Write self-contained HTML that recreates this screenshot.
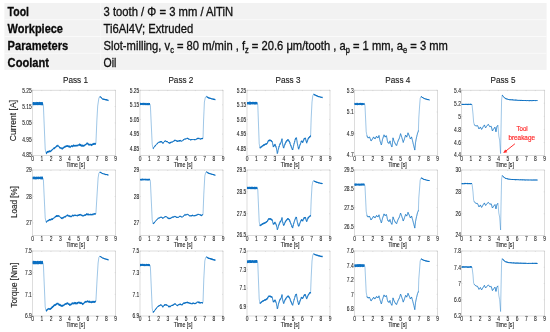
<!DOCTYPE html>
<html lang="en"><head><meta charset="utf-8"><title>Milling passes</title>
<style>html,body{margin:0;padding:0;background:#fff}body{width:550px;height:332px;overflow:hidden}svg{display:block;filter:blur(.3px)}text{font-family:'Liberation Sans', Arial, Helvetica, sans-serif}.k{font-size:6.4px;fill:#262626;stroke:#262626;stroke-width:.1px}.t{font-size:6.3px;fill:#262626;stroke:#262626;stroke-width:.12px}.e{text-anchor:end}.m{text-anchor:middle}.h{font-size:9.5px;fill:#1c1c1c;stroke:#1c1c1c;stroke-width:.14px;text-anchor:middle}.b{font-size:12.6px;font-weight:bold;fill:#0a0a0a;stroke:#0a0a0a;stroke-width:.3px}.v{font-size:12.6px;fill:#111;stroke:#111;stroke-width:.32px}</style>
</head><body>
<svg width="550" height="332" viewBox="0 0 550 332">
<rect width="550" height="332" fill="#fff"/>
<g id="tbl">
<rect x="4.4" y="3" width="542.2" height="66.9" fill="#f2f2f2"/>
<rect x="4.4" y="19.3" width="542.2" height="0.8" fill="#fbfbfb"/>
<rect x="4.4" y="36.1" width="542.2" height="0.8" fill="#fbfbfb"/>
<rect x="4.4" y="52.9" width="542.2" height="0.8" fill="#fbfbfb"/>
<rect x="100.4" y="3" width="0.8" height="66.9" fill="#fbfbfb"/>
<text x="7.6" y="16.4" class="b" textLength="21.4" lengthAdjust="spacingAndGlyphs">Tool</text>
<text x="7.6" y="33.4" class="b" textLength="55.4" lengthAdjust="spacingAndGlyphs">Workpiece</text>
<text x="7.6" y="50.4" class="b" textLength="60.6" lengthAdjust="spacingAndGlyphs">Parameters</text>
<text x="7.6" y="67.3" class="b" textLength="41.4" lengthAdjust="spacingAndGlyphs">Coolant</text>
<text x="103.6" y="16.4" class="v" textLength="129.5" lengthAdjust="spacingAndGlyphs">3 tooth / Φ = 3 mm / AlTiN</text>
<text x="103.6" y="33.4" class="v" textLength="89.6" lengthAdjust="spacingAndGlyphs">Ti6Al4V; Extruded</text>
<text x="103.6" y="50.4" class="v" textLength="344.3" lengthAdjust="spacingAndGlyphs">Slot-milling, v<tspan font-size="8.4" dy="2.6">c</tspan><tspan dy="-2.6"> = 80 m/min , f</tspan><tspan font-size="8.4" dy="2.6">z</tspan><tspan dy="-2.6"> = 20.6 μm/tooth , a</tspan><tspan font-size="8.4" dy="2.6">p</tspan><tspan dy="-2.6"> = 1 mm, a</tspan><tspan font-size="8.4" dy="2.6">e</tspan><tspan dy="-2.6"> = 3 mm</tspan></text>
<text x="103.6" y="67.3" class="v" textLength="12.8" lengthAdjust="spacingAndGlyphs">Oil</text>
</g>
<text x="75.5" y="82.9" class="h" textLength="25" lengthAdjust="spacingAndGlyphs">Pass 1</text>
<text x="180.9" y="82.9" class="h" textLength="25" lengthAdjust="spacingAndGlyphs">Pass 2</text>
<text x="288" y="82.9" class="h" textLength="25" lengthAdjust="spacingAndGlyphs">Pass 3</text>
<text x="397.8" y="82.9" class="h" textLength="25" lengthAdjust="spacingAndGlyphs">Pass 4</text>
<text x="503" y="82.9" class="h" textLength="25" lengthAdjust="spacingAndGlyphs">Pass 5</text>
<text transform="translate(15.5 120.6) rotate(-90)" class="h" textLength="41.2" lengthAdjust="spacingAndGlyphs">Current [A]</text>
<text transform="translate(17.1 202.1) rotate(-90)" class="h" textLength="31.7" lengthAdjust="spacingAndGlyphs">Load [%]</text>
<text transform="translate(16.6 285.2) rotate(-90)" class="h" textLength="45.0" lengthAdjust="spacingAndGlyphs">Torque [Nm]</text>
<g>
<rect x="32.5" y="90.2" width="83" height="65.4" fill="#fff" stroke="#c6c6c6" stroke-width="0.6"/>
<path d="M32.5 155.6v-0.9M32.5 90.2v0.9M41.72 155.6v-0.9M41.72 90.2v0.9M50.94 155.6v-0.9M50.94 90.2v0.9M60.17 155.6v-0.9M60.17 90.2v0.9M69.39 155.6v-0.9M69.39 90.2v0.9M78.61 155.6v-0.9M78.61 90.2v0.9M87.83 155.6v-0.9M87.83 90.2v0.9M97.06 155.6v-0.9M97.06 90.2v0.9M106.28 155.6v-0.9M106.28 90.2v0.9M115.5 155.6v-0.9M115.5 90.2v0.9M32.5 90.2h0.9M115.5 90.2h-0.9M32.5 106.55h0.9M115.5 106.55h-0.9M32.5 122.9h0.9M115.5 122.9h-0.9M32.5 139.25h0.9M115.5 139.25h-0.9M32.5 155.6h0.9M115.5 155.6h-0.9" stroke="#bdbdbd" stroke-width="0.4" fill="none"/>
<text x="31.8" y="92.55" textLength="9.57" lengthAdjust="spacingAndGlyphs" class="k e">5.25</text>
<text x="31.8" y="108.9" textLength="9.57" lengthAdjust="spacingAndGlyphs" class="k e">5.15</text>
<text x="31.8" y="125.25" textLength="9.57" lengthAdjust="spacingAndGlyphs" class="k e">5.05</text>
<text x="31.8" y="141.6" textLength="9.57" lengthAdjust="spacingAndGlyphs" class="k e">4.95</text>
<text x="31.8" y="157.15" textLength="9.57" lengthAdjust="spacingAndGlyphs" class="k e">4.85</text>
<text x="32.6" y="160.9" textLength="2.74" lengthAdjust="spacingAndGlyphs" class="k m">0</text>
<text x="41.82" y="160.9" textLength="2.74" lengthAdjust="spacingAndGlyphs" class="k m">1</text>
<text x="51.04" y="160.9" textLength="2.74" lengthAdjust="spacingAndGlyphs" class="k m">2</text>
<text x="60.27" y="160.9" textLength="2.74" lengthAdjust="spacingAndGlyphs" class="k m">3</text>
<text x="69.49" y="160.9" textLength="2.74" lengthAdjust="spacingAndGlyphs" class="k m">4</text>
<text x="78.71" y="160.9" textLength="2.74" lengthAdjust="spacingAndGlyphs" class="k m">5</text>
<text x="87.93" y="160.9" textLength="2.74" lengthAdjust="spacingAndGlyphs" class="k m">6</text>
<text x="97.16" y="160.9" textLength="2.74" lengthAdjust="spacingAndGlyphs" class="k m">7</text>
<text x="106.38" y="160.9" textLength="2.74" lengthAdjust="spacingAndGlyphs" class="k m">8</text>
<text x="115.6" y="160.9" textLength="2.74" lengthAdjust="spacingAndGlyphs" class="k m">9</text>
<text x="75.6" y="166.5" textLength="18.5" lengthAdjust="spacingAndGlyphs" class="t m">Time [s]</text>
<polyline points="32.6,103.6 43,103.6 43.4,105.6 45.2,149 46,153.4 48.2,151.36 50.9,150.8 53.64,148.64 56.36,146.46 58,145.9 60.18,147.54 61.8,148.64 64.54,147.2 67.26,145.68 70,147 72.72,145.9 74.9,145.36 77.08,145.58 78.72,144.82 80.9,145.36 83.08,146.24 85.26,144.82 86.9,143.72 89.08,144.6 91.26,144.6 93.44,144.06 95.9,143.72 96.9,120 97.7,106 98.9,98 99.7,96.8 100.7,97 102.5,99 105.5,99.6 108.5,100.4" fill="none" stroke="#0b6fc2" stroke-opacity="0.6" stroke-width="0.65" stroke-linejoin="round"/>
<polygon points="32.6,102.19 33,102.03 33.4,102.12 33.8,102 34.2,101.99 34.6,102.29 35,102.31 35.4,101.88 35.8,102.18 36.2,102.2 36.6,101.79 37,102.07 37.4,101.88 37.8,102.07 38.2,101.98 38.6,102.24 39,101.98 39.4,101.86 39.8,102.04 40.2,101.93 40.6,101.97 41,102.29 41.4,101.92 41.8,102.01 42.2,102.16 42.6,102.3 43,101.86 43,105.4 42.6,105.33 42.2,105.37 41.8,105.24 41.4,105.36 41,105.19 40.6,105.19 40.2,105.07 39.8,105.08 39.4,105.15 39,105.04 38.6,105.21 38.2,105.11 37.8,105.39 37.4,104.99 37,104.95 36.6,104.93 36.2,105.34 35.8,105.37 35.4,105.11 35,105.3 34.6,105.09 34.2,105.37 33.8,105.26 33.4,105.34 33,105.26 32.6,105.13" fill="#0b6fc2"/>
<polygon points="46,152.58 46.4,152.01 46.8,151.25 47.2,151.11 47.6,151.01 48,150.68 48.4,150.91 48.8,150.81 49.2,150.31 49.6,150.53 50,150.41 50.4,150.67 50.8,150.2 51.2,149.72 51.6,149.71 52,149.05 52.4,148.77 52.8,148.78 53.2,147.92 53.6,147.54 54,147.19 54.4,147.29 54.8,146.94 55.2,146.51 55.6,146.59 56,146.16 56.4,145.35 56.8,144.92 57.2,145.18 57.6,144.83 58,144.53 58.4,145.19 58.8,145.72 59.2,146.32 59.6,146.62 60,146.82 60.4,147.26 60.8,147.18 61.2,146.9 61.6,147.64 62,147.54 62.4,147.45 62.8,147.49 63.2,147.21 63.6,146.48 64,146.56 64.4,146.3 64.8,145.86 65.2,145.51 65.6,145.74 66,145.46 66.4,145.39 66.8,144.98 67.2,145.09 67.6,144.98 68,145.66 68.4,145.47 68.8,145.18 69.2,145.06 69.6,145.73 70,146.26 70.4,146.17 70.8,145.55 71.2,145.43 71.6,144.97 72,145.01 72.4,145.51 72.8,145.17 73.2,144.59 73.6,144.55 74,144.52 74.4,144.91 74.8,145.06 75.2,144.99 75.6,144.73 76,145.01 76.4,144.84 76.8,144.68 77.2,144.81 77.6,144.8 78,144.33 78.4,144.44 78.8,144.18 79.2,143.5 79.6,143.57 80,143.52 80.4,144.1 80.8,144.02 81.2,144.35 81.6,144.8 82,144.43 82.4,144.4 82.8,144.73 83.2,144.92 83.6,144.87 84,144.65 84.4,144.53 84.8,144.45 85.2,143.9 85.6,143.9 86,143.13 86.4,143.23 86.8,142.27 87.2,142.42 87.6,142.39 88,142.69 88.4,143.12 88.8,143.77 89.2,144.19 89.6,143.52 90,143.72 90.4,143.85 90.8,143.81 91.2,144.06 91.6,144.03 92,143.56 92.4,143.58 92.8,143.5 93.2,143.29 93.6,142.77 94,143 94.4,142.77 94.8,143.02 95.2,143.09 95.6,142.84 95.9,142.63 95.9,144.47 95.6,144.99 95.2,144.85 94.8,144.78 94.4,144.83 94,144.97 93.6,145.05 93.2,145.11 92.8,145.02 92.4,145.69 92,145.66 91.6,146.15 91.2,145.94 90.8,145.51 90.4,145.52 90,145.26 89.6,145.48 89.2,145.64 88.8,145.61 88.4,145.42 88,144.9 87.6,144.37 87.2,144.2 86.8,144.23 86.4,145.01 86,145.25 85.6,145.5 85.2,145.53 84.8,146.31 84.4,146.38 84,146.14 83.6,146.74 83.2,146.8 82.8,146.88 82.4,146.18 82,146.65 81.6,146.53 81.2,146.81 80.8,146.41 80.4,146.03 80,145.94 79.6,145.43 79.2,145.89 78.8,145.39 78.4,145.85 78,146.73 77.6,146.33 77.2,146.35 76.8,146.18 76.4,146.79 76,146.48 75.6,146.45 75.2,146.77 74.8,146.41 74.4,146.71 74,146.74 73.6,146.62 73.2,146.85 72.8,147.14 72.4,147.27 72,147.31 71.6,146.79 71.2,147.06 70.8,147.27 70.4,147.97 70,148.21 69.6,147.48 69.2,147.48 68.8,147.4 68.4,147.17 68,147.25 67.6,146.79 67.2,147.04 66.8,147.1 66.4,146.97 66,147.18 65.6,147.46 65.2,147.45 64.8,147.82 64.4,147.95 64,148.16 63.6,148.5 63.2,148.96 62.8,149.42 62.4,149.39 62,149.64 61.6,149.25 61.2,148.86 60.8,148.75 60.4,148.71 60,148.66 59.6,148.54 59.2,148.09 58.8,147.24 58.4,146.82 58,146.25 57.6,146.57 57.2,146.93 56.8,147.19 56.4,147.23 56,147.6 55.6,148.01 55.2,148.54 54.8,148.66 54.4,149.3 54,149.49 53.6,149.09 53.2,149.61 52.8,150.09 52.4,150.42 52,150.65 51.6,151.44 51.2,151.62 50.8,151.95 50.4,152.22 50,152.15 49.6,152.25 49.2,152.19 48.8,152.79 48.4,152.68 48,152.36 47.6,153.05 47.2,153.18 46.8,153.69 46.4,154.14 46,154.26" fill="#0b6fc2"/>
<polygon points="99.7,96.24 100.1,96.13 100.5,96.17 100.9,96.54 101.3,97.01 101.7,97.37 102.1,97.97 102.5,98.39 102.9,98.49 103.3,98.46 103.7,98.62 104.1,98.72 104.5,98.67 104.9,98.68 105.3,98.94 105.7,98.92 106.1,99.11 106.5,99.09 106.9,99.27 107.3,99.47 107.7,99.59 108.1,99.76 108.5,99.73 108.5,101.14 108.1,100.89 107.7,100.78 107.3,100.74 106.9,100.78 106.5,100.61 106.1,100.41 105.7,100.43 105.3,100.3 104.9,100.15 104.5,100.09 104.1,100.09 103.7,100.01 103.3,99.82 102.9,99.78 102.5,99.67 102.1,99.37 101.7,98.68 101.3,98.42 100.9,97.84 100.5,97.59 100.1,97.46 99.7,97.44" fill="#0b6fc2"/>
</g>
<g>
<rect x="140" y="90.2" width="83" height="65.4" fill="#fff" stroke="#c6c6c6" stroke-width="0.6"/>
<path d="M140 155.6v-0.9M140 90.2v0.9M149.22 155.6v-0.9M149.22 90.2v0.9M158.44 155.6v-0.9M158.44 90.2v0.9M167.67 155.6v-0.9M167.67 90.2v0.9M176.89 155.6v-0.9M176.89 90.2v0.9M186.11 155.6v-0.9M186.11 90.2v0.9M195.33 155.6v-0.9M195.33 90.2v0.9M204.56 155.6v-0.9M204.56 90.2v0.9M213.78 155.6v-0.9M213.78 90.2v0.9M223 155.6v-0.9M223 90.2v0.9M140 90.2h0.9M223 90.2h-0.9M140 104.83h0.9M223 104.83h-0.9M140 119.46h0.9M223 119.46h-0.9M140 134.09h0.9M223 134.09h-0.9M140 148.72h0.9M223 148.72h-0.9" stroke="#bdbdbd" stroke-width="0.4" fill="none"/>
<text x="139.3" y="92.55" textLength="9.57" lengthAdjust="spacingAndGlyphs" class="k e">5.25</text>
<text x="139.3" y="107.18" textLength="9.57" lengthAdjust="spacingAndGlyphs" class="k e">5.15</text>
<text x="139.3" y="121.81" textLength="9.57" lengthAdjust="spacingAndGlyphs" class="k e">5.05</text>
<text x="139.3" y="136.44" textLength="9.57" lengthAdjust="spacingAndGlyphs" class="k e">4.95</text>
<text x="139.3" y="151.07" textLength="9.57" lengthAdjust="spacingAndGlyphs" class="k e">4.85</text>
<text x="140.1" y="160.9" textLength="2.74" lengthAdjust="spacingAndGlyphs" class="k m">0</text>
<text x="149.32" y="160.9" textLength="2.74" lengthAdjust="spacingAndGlyphs" class="k m">1</text>
<text x="158.54" y="160.9" textLength="2.74" lengthAdjust="spacingAndGlyphs" class="k m">2</text>
<text x="167.77" y="160.9" textLength="2.74" lengthAdjust="spacingAndGlyphs" class="k m">3</text>
<text x="176.99" y="160.9" textLength="2.74" lengthAdjust="spacingAndGlyphs" class="k m">4</text>
<text x="186.21" y="160.9" textLength="2.74" lengthAdjust="spacingAndGlyphs" class="k m">5</text>
<text x="195.43" y="160.9" textLength="2.74" lengthAdjust="spacingAndGlyphs" class="k m">6</text>
<text x="204.66" y="160.9" textLength="2.74" lengthAdjust="spacingAndGlyphs" class="k m">7</text>
<text x="213.88" y="160.9" textLength="2.74" lengthAdjust="spacingAndGlyphs" class="k m">8</text>
<text x="223.1" y="160.9" textLength="2.74" lengthAdjust="spacingAndGlyphs" class="k m">9</text>
<text x="183.1" y="166.5" textLength="18.5" lengthAdjust="spacingAndGlyphs" class="t m">Time [s]</text>
<polyline points="140,104 150,104 150.4,106 152.2,144.2 153,148.6 155,146 157,143.6 159,142.4 161,141.6 163,143 165,141 167,141.6 169,143 172,142 175,140.4 177,141.6 180,140.4 182,141 185,139 187.4,138.6 190,139.6 193,139.6 196,139.4 198,138 200,139.2 203,138.6 203.6,120 204.4,102 205.4,97.2 206.4,96.4 208,97.6 211,98.6 214,99.4 215.4,99.6" fill="none" stroke="#0b6fc2" stroke-opacity="0.6" stroke-width="0.65" stroke-linejoin="round"/>
<polygon points="140,102.86 140.4,102.71 140.8,102.77 141.2,103.09 141.6,103.12 142,103.08 142.4,103.12 142.8,102.85 143.2,102.77 143.6,102.74 144,103.09 144.4,102.76 144.8,103.05 145.2,103 145.6,102.84 146,103.17 146.4,103.17 146.8,102.78 147.2,103.07 147.6,103.03 148,102.91 148.4,102.86 148.8,103.22 149.2,103.04 149.6,102.99 150,102.96 150,104.84 149.6,105.06 149.2,105.14 148.8,105.29 148.4,105.18 148,104.92 147.6,105.21 147.2,105.13 146.8,105.14 146.4,104.94 146,105.18 145.6,105.19 145.2,104.98 144.8,105.28 144.4,104.83 144,105.26 143.6,105.25 143.2,104.84 142.8,105.13 142.4,104.93 142,104.84 141.6,105.07 141.2,104.99 140.8,105.28 140.4,105.09 140,104.89" fill="#0b6fc2"/>
<polygon points="153,148.18 153.4,147.61 153.8,146.89 154.2,146.14 154.6,145.69 155,145.34 155.4,145.02 155.8,144.82 156.2,144.16 156.6,143.79 157,143.05 157.4,142.74 157.8,142.62 158.2,142.23 158.6,141.57 159,141.99 159.4,141.46 159.8,141.31 160.2,141.11 160.6,141.33 161,140.94 161.4,141.05 161.8,141.15 162.2,141.43 162.6,142.14 163,142.84 163.4,141.98 163.8,141.76 164.2,141.15 164.6,140.5 165,140.41 165.4,140.17 165.8,140.62 166.2,141.12 166.6,140.96 167,140.87 167.4,141.15 167.8,141.26 168.2,141.94 168.6,142 169,142.31 169.4,142.44 169.8,142.23 170.2,141.79 170.6,141.66 171,142.02 171.4,141.43 171.8,141.41 172.2,141.65 172.6,141.26 173,141.12 173.4,140.95 173.8,140.36 174.2,139.83 174.6,139.98 175,139.35 175.4,139.66 175.8,140.24 176.2,139.95 176.6,140.33 177,140.31 177.4,140.38 177.8,140.42 178.2,140.74 178.6,140.33 179,140.1 179.4,140 179.8,140.05 180.2,139.75 180.6,140.01 181,140.45 181.4,140.68 181.8,140.75 182.2,140.47 182.6,140.1 183,139.55 183.4,139.12 183.8,138.93 184.2,138.78 184.6,138.4 185,138.44 185.4,138.42 185.8,138.32 186.2,138.43 186.6,138.24 187,137.42 187.4,137.52 187.8,138.07 188.2,138.37 188.6,138.33 189,138.36 189.4,138.74 189.8,139.21 190.2,139.32 190.6,138.95 191,139.25 191.4,138.9 191.8,139.04 192.2,139.02 192.6,139.04 193,138.91 193.4,139.06 193.8,139.16 194.2,139.12 194.6,139.1 195,138.92 195.4,139.26 195.8,139.33 196.2,138.81 196.6,138.42 197,137.8 197.4,138.12 197.8,137.76 198.2,137.81 198.6,138.06 199,137.43 199.4,138.07 199.8,138.45 200.2,138.33 200.6,138.43 201,137.98 201.4,138.03 201.8,138.11 202.2,138.08 202.6,137.6 203,138.04 203,138.87 202.6,139.17 202.2,139.02 201.8,139.14 201.4,138.99 201,139.54 200.6,139.53 200.2,139.8 199.8,139.18 199.4,139.11 199,139.07 198.6,138.9 198.2,139.25 197.8,139.14 197.4,139.18 197,139.28 196.6,139.84 196.2,139.85 195.8,140.25 195.4,139.94 195,140.44 194.6,139.94 194.2,140.43 193.8,139.78 193.4,139.84 193,140.32 192.6,139.8 192.2,139.87 191.8,139.88 191.4,140.16 191,140.46 190.6,140.48 190.2,140.58 189.8,140.09 189.4,139.86 189,139.49 188.6,139.93 188.2,139.36 187.8,138.91 187.4,138.99 187,139.05 186.6,139.06 186.2,139.33 185.8,139.58 185.4,139.76 185,139.28 184.6,139.5 184.2,140.04 183.8,139.95 183.4,140.82 183,140.75 182.6,140.85 182.2,141.44 181.8,141.61 181.4,141.79 181,141.72 180.6,141.23 180.2,141.43 179.8,141.53 179.4,141.6 179,141.88 178.6,141.62 178.2,141.62 177.8,141.96 177.4,141.96 177,141.84 176.6,141.34 176.2,141.59 175.8,141.02 175.4,141.05 175,140.79 174.6,141.26 174.2,141.45 173.8,141.8 173.4,141.7 173,142.04 172.6,142.42 172.2,142.8 171.8,142.57 171.4,142.83 171,142.95 170.6,143.47 170.2,143.39 169.8,143.76 169.4,143.82 169,143.83 168.6,143.04 168.2,143.18 167.8,142.67 167.4,142.09 167,142.03 166.6,141.98 166.2,142.61 165.8,141.86 165.4,141.33 165,141.64 164.6,141.98 164.2,142.35 163.8,142.7 163.4,143.78 163,144.24 162.6,143.73 162.2,143 161.8,142.82 161.4,142.17 161,142.51 160.6,142.61 160.2,142.38 159.8,142.53 159.4,142.7 159,142.66 158.6,142.71 158.2,142.99 157.8,143.75 157.4,144.37 157,144.45 156.6,144.57 156.2,145.25 155.8,145.93 155.4,146.55 155,146.61 154.6,147 154.2,147.43 153.8,148.38 153.4,148.64 153,149.42" fill="#0b6fc2"/>
<polygon points="206.4,95.77 206.8,96.03 207.2,96.45 207.6,96.61 208,96.86 208.4,97.08 208.8,97.15 209.2,97.3 209.6,97.54 210,97.64 210.4,97.58 210.8,97.91 211.2,98 211.6,98.21 212,98.27 212.4,98.4 212.8,98.28 213.2,98.45 213.6,98.51 214,98.59 214.4,98.75 214.8,98.72 215.2,98.89 215.4,98.95 215.4,100.21 215.2,100.32 214.8,100.26 214.4,100.09 214,100.05 213.6,99.9 213.2,99.93 212.8,99.62 212.4,99.69 212,99.55 211.6,99.37 211.2,99.39 210.8,99.09 210.4,98.98 210,99.07 209.6,98.75 209.2,98.8 208.8,98.68 208.4,98.38 208,98.35 207.6,97.97 207.2,97.8 206.8,97.49 206.4,97.2" fill="#0b6fc2"/>
</g>
<g>
<rect x="247" y="90.2" width="83" height="65.4" fill="#fff" stroke="#c6c6c6" stroke-width="0.6"/>
<path d="M247 155.6v-0.9M247 90.2v0.9M256.22 155.6v-0.9M256.22 90.2v0.9M265.44 155.6v-0.9M265.44 90.2v0.9M274.67 155.6v-0.9M274.67 90.2v0.9M283.89 155.6v-0.9M283.89 90.2v0.9M293.11 155.6v-0.9M293.11 90.2v0.9M302.33 155.6v-0.9M302.33 90.2v0.9M311.56 155.6v-0.9M311.56 90.2v0.9M320.78 155.6v-0.9M320.78 90.2v0.9M330 155.6v-0.9M330 90.2v0.9M247 90.2h0.9M330 90.2h-0.9M247 104.83h0.9M330 104.83h-0.9M247 119.46h0.9M330 119.46h-0.9M247 134.09h0.9M330 134.09h-0.9M247 148.72h0.9M330 148.72h-0.9" stroke="#bdbdbd" stroke-width="0.4" fill="none"/>
<text x="246.3" y="92.55" textLength="9.57" lengthAdjust="spacingAndGlyphs" class="k e">5.25</text>
<text x="246.3" y="107.18" textLength="9.57" lengthAdjust="spacingAndGlyphs" class="k e">5.15</text>
<text x="246.3" y="121.81" textLength="9.57" lengthAdjust="spacingAndGlyphs" class="k e">5.05</text>
<text x="246.3" y="136.44" textLength="9.57" lengthAdjust="spacingAndGlyphs" class="k e">4.95</text>
<text x="246.3" y="151.07" textLength="9.57" lengthAdjust="spacingAndGlyphs" class="k e">4.85</text>
<text x="247.1" y="160.9" textLength="2.74" lengthAdjust="spacingAndGlyphs" class="k m">0</text>
<text x="256.32" y="160.9" textLength="2.74" lengthAdjust="spacingAndGlyphs" class="k m">1</text>
<text x="265.54" y="160.9" textLength="2.74" lengthAdjust="spacingAndGlyphs" class="k m">2</text>
<text x="274.77" y="160.9" textLength="2.74" lengthAdjust="spacingAndGlyphs" class="k m">3</text>
<text x="283.99" y="160.9" textLength="2.74" lengthAdjust="spacingAndGlyphs" class="k m">4</text>
<text x="293.21" y="160.9" textLength="2.74" lengthAdjust="spacingAndGlyphs" class="k m">5</text>
<text x="302.43" y="160.9" textLength="2.74" lengthAdjust="spacingAndGlyphs" class="k m">6</text>
<text x="311.66" y="160.9" textLength="2.74" lengthAdjust="spacingAndGlyphs" class="k m">7</text>
<text x="320.88" y="160.9" textLength="2.74" lengthAdjust="spacingAndGlyphs" class="k m">8</text>
<text x="330.1" y="160.9" textLength="2.74" lengthAdjust="spacingAndGlyphs" class="k m">9</text>
<text x="290.1" y="166.5" textLength="18.5" lengthAdjust="spacingAndGlyphs" class="t m">Time [s]</text>
<polyline points="247,103.2 257.4,103.2 257.8,105.2 259.2,143.6 260,148 261,147 263,145.6 265,144.4 267,143.6 268.6,140.4 270.6,140.4 272.2,141.6 273.4,147 275,144.4 276.4,148 277.4,153.6 278.6,148 280,144 281,142.4 282,139 282.6,144 283.6,148 285,144 286.6,141 288,139.6 289.4,141.6 291,146 292.6,150 294,144 295.4,139 296.4,137.6 297.4,144 298.6,149 300,145 301.4,141 302.6,142.4 304,139 305.4,138 306.6,143 308,139 309.4,137 310.6,136 311.2,118 312,102 312.8,95.6 313.6,94.2 315,95 318,96.4 321,97.2 322.6,97.6" fill="none" stroke="#0b6fc2" stroke-opacity="0.6" stroke-width="0.65" stroke-linejoin="round"/>
<polygon points="247,102.07 247.4,101.96 247.8,101.9 248.2,102.08 248.6,102.04 249,101.72 249.4,101.75 249.8,101.6 250.2,101.6 250.6,101.66 251,101.92 251.4,102.03 251.8,101.96 252.2,101.88 252.6,101.84 253,101.83 253.4,101.93 253.8,101.67 254.2,101.97 254.6,101.88 255,101.65 255.4,101.69 255.8,101.96 256.2,101.99 256.6,101.69 257,102.11 257.4,102.05 257.4,104.64 257,104.61 256.6,104.51 256.2,104.3 255.8,104.42 255.4,104.5 255,104.7 254.6,104.41 254.2,104.44 253.8,104.33 253.4,104.57 253,104.31 252.6,104.46 252.2,104.51 251.8,104.29 251.4,104.38 251,104.3 250.6,104.8 250.2,104.69 249.8,104.8 249.4,104.53 249,104.69 248.6,104.39 248.2,104.31 247.8,104.37 247.4,104.56 247,104.56" fill="#0b6fc2"/>
<polyline points="260,147.24 260.25,148.47 260.5,147.03 260.75,147.67 261,146.31 261.25,147.53 261.5,146.07 261.75,147.2 262,145.7 262.25,146.61 262.5,145.52 262.75,146.14 263,144.96 263.25,146.2 263.5,144.54 263.75,145.72 264,144.35 264.25,145.62 264.5,143.98 264.75,145.18 265,143.86 265.25,144.89 265.5,143.76 265.75,144.54 266,143.34 266.25,144.7 266.5,143.2 266.75,144.24 267,143.09 267.25,143.66 267.5,141.89 267.75,142.66 268,140.82 268.25,141.53 268.5,140.1 268.75,140.99 269,139.86 269.25,141.13 269.5,139.68 269.75,141.17 270,139.77 270.25,140.77 270.5,139.79 270.75,141.11 271,140.13 271.25,141.37 271.5,140.4 271.75,142.02 272,141.04 272.25,142.48 272.5,142.43 272.75,144.66 273,144.45 273.25,147.11 273.5,146.19 273.75,146.88 274,145.26 274.25,146.06 274.5,144.68 274.75,145.53 275,143.9 275.25,145.52 275.5,144.91 275.75,147.1 276,146.47 276.25,148.15 276.5,148.08 276.75,150.38 277,150.89 277.25,153.55 277.5,152.74 277.75,152.43 278,150.35 278.25,150.03 278.5,147.88 278.75,148.26 279,146.13 279.25,146.78 279.5,144.71 279.75,145.08 280,143.52 280.25,144.38 280.5,142.81 280.75,143.28 281,141.83 281.25,142.03 281.5,140.1 281.75,140.23 282,138.54 282.25,141.86 282.5,142.74 282.75,145.36 283,145.16 283.25,147.4 283.5,146.94 283.75,148.22 284,146.43 284.25,146.53 284.5,144.73 284.75,145.15 285,143.56 285.25,144.25 285.5,142.32 285.75,142.98 286,141.34 286.25,142.25 286.5,140.66 286.75,141.26 287,140.07 287.25,141.14 287.5,139.62 287.75,140.27 288,139.18 288.25,140.37 288.5,139.8 288.75,141.43 289,140.63 289.25,141.83 289.5,141.1 289.75,143.36 290,142.46 290.25,144.41 290.5,144.11 290.75,146.09 291,145.43 291.25,147.29 291.5,146.75 291.75,148.24 292,147.99 292.25,149.81 292.5,149.05 292.75,149.97 293,147.72 293.25,147.81 293.5,145.59 293.75,145.67 294,143.27 294.25,143.56 294.5,141.59 294.75,142.09 295,139.7 295.25,139.97 295.5,138.08 295.75,139.24 296,137.73 296.25,138.29 296.5,137.79 296.75,140.22 297,140.65 297.25,143.58 297.5,143.67 297.75,145.87 298,146.13 298.25,148.28 298.5,147.87 298.75,149.37 299,147.2 299.25,147.73 299.5,145.73 299.75,146.11 300,144.4 300.25,144.84 300.5,143.15 300.75,143.48 301,141.64 301.25,142.01 301.5,140.59 301.75,141.91 302,141.18 302.25,142.62 302.5,141.49 302.75,142.81 303,140.69 303.25,141.55 303.5,139.73 303.75,140.4 304,138.52 304.25,139.24 304.5,138.06 304.75,139.15 305,137.78 305.25,138.75 305.5,137.93 305.75,140.24 306,139.94 306.25,142.11 306.5,141.99 306.75,143.32 307,141.06 307.25,141.74 307.5,139.87 307.75,140.35 308,138.61 308.25,139.19 308.5,137.55 308.75,138.63 309,137.19 309.25,137.95 309.5,136.39 309.75,137.5 310,135.98 310.25,136.75 310.5,135.48 310.6,136.75" fill="none" stroke="#0b6fc2" stroke-width="0.65" stroke-linejoin="round" stroke-linecap="round" stroke-opacity="0.95"/>
<polygon points="313.6,93.55 314,93.65 314.4,93.92 314.8,94.25 315.2,94.48 315.6,94.6 316,94.82 316.4,95.02 316.8,95.12 317.2,95.24 317.6,95.52 318,95.83 318.4,95.91 318.8,95.98 319.2,96.01 319.6,96.26 320,96.38 320.4,96.42 320.8,96.54 321.2,96.71 321.6,96.66 322,96.65 322.4,96.87 322.6,96.86 322.6,98.25 322.4,98.23 322,98.09 321.6,97.96 321.2,97.83 320.8,97.92 320.4,97.57 320,97.56 319.6,97.36 319.2,97.27 318.8,97.32 318.4,97.27 318,96.98 317.6,96.83 317.2,96.81 316.8,96.51 316.4,96.29 316,96.25 315.6,95.84 315.2,95.82 314.8,95.54 314.4,95.45 314,95.2 313.6,94.97" fill="#0b6fc2"/>
</g>
<g>
<rect x="354.4" y="90.2" width="83" height="65.4" fill="#fff" stroke="#c6c6c6" stroke-width="0.6"/>
<path d="M354.4 155.6v-0.9M354.4 90.2v0.9M363.62 155.6v-0.9M363.62 90.2v0.9M372.84 155.6v-0.9M372.84 90.2v0.9M382.07 155.6v-0.9M382.07 90.2v0.9M391.29 155.6v-0.9M391.29 90.2v0.9M400.51 155.6v-0.9M400.51 90.2v0.9M409.73 155.6v-0.9M409.73 90.2v0.9M418.96 155.6v-0.9M418.96 90.2v0.9M428.18 155.6v-0.9M428.18 90.2v0.9M437.4 155.6v-0.9M437.4 90.2v0.9M354.4 90.2h0.9M437.4 90.2h-0.9M354.4 112h0.9M437.4 112h-0.9M354.4 133.8h0.9M437.4 133.8h-0.9M354.4 155.6h0.9M437.4 155.6h-0.9" stroke="#bdbdbd" stroke-width="0.4" fill="none"/>
<text x="353.7" y="92.55" textLength="6.84" lengthAdjust="spacingAndGlyphs" class="k e">5.3</text>
<text x="353.7" y="114.35" textLength="6.84" lengthAdjust="spacingAndGlyphs" class="k e">5.1</text>
<text x="353.7" y="136.15" textLength="6.84" lengthAdjust="spacingAndGlyphs" class="k e">4.9</text>
<text x="353.7" y="157.15" textLength="6.84" lengthAdjust="spacingAndGlyphs" class="k e">4.7</text>
<text x="354.5" y="160.9" textLength="2.74" lengthAdjust="spacingAndGlyphs" class="k m">0</text>
<text x="363.72" y="160.9" textLength="2.74" lengthAdjust="spacingAndGlyphs" class="k m">1</text>
<text x="372.94" y="160.9" textLength="2.74" lengthAdjust="spacingAndGlyphs" class="k m">2</text>
<text x="382.17" y="160.9" textLength="2.74" lengthAdjust="spacingAndGlyphs" class="k m">3</text>
<text x="391.39" y="160.9" textLength="2.74" lengthAdjust="spacingAndGlyphs" class="k m">4</text>
<text x="400.61" y="160.9" textLength="2.74" lengthAdjust="spacingAndGlyphs" class="k m">5</text>
<text x="409.83" y="160.9" textLength="2.74" lengthAdjust="spacingAndGlyphs" class="k m">6</text>
<text x="419.06" y="160.9" textLength="2.74" lengthAdjust="spacingAndGlyphs" class="k m">7</text>
<text x="428.28" y="160.9" textLength="2.74" lengthAdjust="spacingAndGlyphs" class="k m">8</text>
<text x="437.5" y="160.9" textLength="2.74" lengthAdjust="spacingAndGlyphs" class="k m">9</text>
<text x="397.5" y="166.5" textLength="18.5" lengthAdjust="spacingAndGlyphs" class="t m">Time [s]</text>
<polyline points="354.4,104 364.6,104 365,106 366.2,131.6 367,136 368,138 369.6,137 371,141 372.4,139 373.6,137 375,139 376.4,136.4 378,138 379,135.6 380,141 381.4,145 382.6,139 384,135 385.2,137 386.4,135.6 387.6,142 389,143.6 390,141 391,145 392,147 393,138 394,141 395.4,144 396.6,145.6 398,141 399.4,138 400.6,133.6 402,138 403.2,142.4 404.4,139 405.6,135 406.8,137 408,133 409.2,135.6 410.4,139 411.6,137 412.8,142 414,147 414.8,150 415.6,142 416.6,137 417.6,133 418.4,131 418.8,118 419.6,106 420.2,98.4 421,96.4 422,97.2 424,98.4 427,99.4 429.6,100" fill="none" stroke="#0b6fc2" stroke-opacity="0.6" stroke-width="0.65" stroke-linejoin="round"/>
<polygon points="354.4,102.89 354.8,102.87 355.2,102.99 355.6,103.17 356,102.7 356.4,102.86 356.8,103.18 357.2,102.99 357.6,102.82 358,102.7 358.4,103.19 358.8,103.21 359.2,102.97 359.6,103 360,102.75 360.4,102.78 360.8,103.04 361.2,103 361.6,102.91 362,102.75 362.4,103.11 362.8,103.01 363.2,103.17 363.6,102.88 364,103.21 364.4,102.73 364.6,102.94 364.6,105.24 364.4,104.88 364,104.94 363.6,105.01 363.2,104.81 362.8,104.89 362.4,105.17 362,105.23 361.6,105.26 361.2,105.19 360.8,104.97 360.4,105.11 360,105.06 359.6,104.85 359.2,105.26 358.8,104.94 358.4,104.89 358,105.06 357.6,105.13 357.2,105.3 356.8,104.93 356.4,105.06 356,105.23 355.6,105.03 355.2,104.9 354.8,104.83 354.4,105.08" fill="#0b6fc2"/>
<polyline points="367,135.77 367.25,136.86 367.5,136.61 367.75,137.71 368,137.62 368.25,138.11 368.5,137.46 368.75,137.75 369,137.19 369.25,137.51 369.5,136.8 369.75,137.8 370,137.78 370.25,139.05 370.5,139.3 370.75,140.55 371,140.78 371.25,140.88 371.5,140.05 371.75,140.26 372,139.32 372.25,139.42 372.5,138.6 372.75,138.69 373,137.7 373.25,137.82 373.5,136.83 373.75,137.44 374,137.24 374.25,138.24 374.5,138.07 374.75,138.99 375,138.73 375.25,138.83 375.5,137.76 375.75,137.93 376,136.87 376.25,136.87 376.5,136.15 376.75,137.12 377,136.71 377.25,137.56 377.5,137.26 377.75,138.13 378,137.67 378.25,137.63 378.5,136.44 378.75,136.6 379,135.34 379.25,137.35 379.5,138.01 379.75,139.87 380,140.66 380.25,141.97 380.5,142.09 380.75,143.45 381,143.65 381.25,144.87 381.5,144.13 381.75,143.54 382,141.7 382.25,141.12 382.5,139.22 382.75,138.86 383,137.55 383.25,137.5 383.5,136.2 383.75,135.91 384,134.65 384.25,135.72 384.5,135.59 384.75,136.63 385,136.29 385.25,137.24 385.5,136.25 385.75,136.72 386,135.72 386.25,136.02 386.5,135.95 386.75,137.8 387,138.46 387.25,140.39 387.5,141.18 387.75,142.48 388,142.22 388.25,143.08 388.5,142.72 388.75,143.58 389,143.4 389.25,143.25 389.5,142.05 389.75,141.99 390,140.78 390.25,142.27 390.5,142.78 390.75,144.27 391,144.69 391.25,145.7 391.5,145.81 391.75,146.79 392,146.78 392.25,145.04 392.5,142.28 392.75,140.45 393,137.7 393.25,139.13 393.5,139.13 393.75,140.54 394,140.73 394.25,141.73 394.5,141.83 394.75,142.86 395,142.76 395.25,143.88 395.5,143.74 395.75,144.75 396,144.52 396.25,145.37 396.5,145.07 396.75,145.33 397,143.98 397.25,143.76 397.5,142.42 397.75,142.05 398,140.6 398.25,140.82 398.5,139.59 398.75,139.77 399,138.66 399.25,138.66 399.5,137.29 399.75,136.95 400,135.52 400.25,135.28 400.5,133.71 400.75,134.42 401,134.64 401.25,135.97 401.5,136.19 401.75,137.51 402,137.74 402.25,139.29 402.5,139.49 402.75,141.04 403,141.34 403.25,142.53 403.5,141.19 403.75,141.08 404,139.83 404.25,139.73 404.5,138.4 404.75,138.02 405,136.78 405.25,136.49 405.5,135.11 405.75,135.6 406,135.38 406.25,136.47 406.5,136.13 406.75,137.26 407,136.07 407.25,135.69 407.5,134.36 407.75,134.18 408,132.62 408.25,133.77 408.5,133.87 408.75,135.02 409,134.82 409.25,136.03 409.5,136.11 409.75,137.37 410,137.57 410.25,138.9 410.5,138.52 410.75,138.63 411,137.79 411.25,137.9 411.5,136.79 411.75,137.84 412,138.49 412.25,139.91 412.5,140.4 412.75,142.06 413,142.55 413.25,144.27 413.5,144.6 413.75,146.2 414,146.67 414.25,148.12 414.5,148.63 414.75,150.15 415,147.78 415.25,145.69 415.5,142.71 415.75,141.5 416,139.61 416.25,138.95 416.5,137.14 416.75,136.67 417,135.04 417.25,134.68 417.5,133.07 417.75,132.88 418,131.77 418.25,131.65 418.4,130.64" fill="none" stroke="#0b6fc2" stroke-width="0.6" stroke-linejoin="round" stroke-linecap="round" stroke-opacity="0.8"/>
<polygon points="421,95.92 421.4,96.27 421.8,96.54 422.2,96.91 422.6,97.09 423,97.26 423.4,97.5 423.8,97.73 424.2,98 424.6,98.21 425,98.35 425.4,98.39 425.8,98.56 426.2,98.59 426.6,98.81 427,98.8 427.4,98.94 427.8,99.01 428.2,99.09 428.6,99.24 429,99.36 429.4,99.49 429.6,99.6 429.6,100.63 429.4,100.54 429,100.24 428.6,100.29 428.2,100.06 427.8,100.08 427.4,100.14 427,99.85 426.6,99.78 426.2,99.66 425.8,99.42 425.4,99.53 425,99.22 424.6,99.03 424.2,99.13 423.8,98.7 423.4,98.55 423,98.36 422.6,98.11 422.2,97.97 421.8,97.45 421.4,97.24 421,97.01" fill="#0b6fc2"/>
</g>
<g>
<rect x="461.6" y="90.2" width="83" height="65.4" fill="#fff" stroke="#c6c6c6" stroke-width="0.6"/>
<path d="M461.6 155.6v-0.9M461.6 90.2v0.9M470.82 155.6v-0.9M470.82 90.2v0.9M480.04 155.6v-0.9M480.04 90.2v0.9M489.27 155.6v-0.9M489.27 90.2v0.9M498.49 155.6v-0.9M498.49 90.2v0.9M507.71 155.6v-0.9M507.71 90.2v0.9M516.93 155.6v-0.9M516.93 90.2v0.9M526.16 155.6v-0.9M526.16 90.2v0.9M535.38 155.6v-0.9M535.38 90.2v0.9M544.6 155.6v-0.9M544.6 90.2v0.9M461.6 90.2h0.9M544.6 90.2h-0.9M461.6 103.28h0.9M544.6 103.28h-0.9M461.6 116.36h0.9M544.6 116.36h-0.9M461.6 129.44h0.9M544.6 129.44h-0.9M461.6 142.52h0.9M544.6 142.52h-0.9M461.6 155.6h0.9M544.6 155.6h-0.9" stroke="#bdbdbd" stroke-width="0.4" fill="none"/>
<text x="460.9" y="92.55" textLength="6.84" lengthAdjust="spacingAndGlyphs" class="k e">5.4</text>
<text x="460.9" y="105.63" textLength="6.84" lengthAdjust="spacingAndGlyphs" class="k e">5.2</text>
<text x="460.9" y="118.71" textLength="2.74" lengthAdjust="spacingAndGlyphs" class="k e">5</text>
<text x="460.9" y="131.79" textLength="6.84" lengthAdjust="spacingAndGlyphs" class="k e">4.8</text>
<text x="460.9" y="144.87" textLength="6.84" lengthAdjust="spacingAndGlyphs" class="k e">4.6</text>
<text x="460.9" y="157.15" textLength="6.84" lengthAdjust="spacingAndGlyphs" class="k e">4.4</text>
<text x="461.7" y="160.9" textLength="2.74" lengthAdjust="spacingAndGlyphs" class="k m">0</text>
<text x="470.92" y="160.9" textLength="2.74" lengthAdjust="spacingAndGlyphs" class="k m">1</text>
<text x="480.14" y="160.9" textLength="2.74" lengthAdjust="spacingAndGlyphs" class="k m">2</text>
<text x="489.37" y="160.9" textLength="2.74" lengthAdjust="spacingAndGlyphs" class="k m">3</text>
<text x="498.59" y="160.9" textLength="2.74" lengthAdjust="spacingAndGlyphs" class="k m">4</text>
<text x="507.81" y="160.9" textLength="2.74" lengthAdjust="spacingAndGlyphs" class="k m">5</text>
<text x="517.03" y="160.9" textLength="2.74" lengthAdjust="spacingAndGlyphs" class="k m">6</text>
<text x="526.26" y="160.9" textLength="2.74" lengthAdjust="spacingAndGlyphs" class="k m">7</text>
<text x="535.48" y="160.9" textLength="2.74" lengthAdjust="spacingAndGlyphs" class="k m">8</text>
<text x="544.7" y="160.9" textLength="2.74" lengthAdjust="spacingAndGlyphs" class="k m">9</text>
<text x="504.7" y="166.5" textLength="18.5" lengthAdjust="spacingAndGlyphs" class="t m">Time [s]</text>
<polyline points="461.6,104.4 472,104.4 473,114 473.6,122 474.4,125 476,126 477.6,125.6 479,129 480.4,127 481.6,129.6 483,127 484.4,125 485.6,128 487,125.6 488.4,124.4 490,127 491.2,126 492.4,131 493.6,129 495,127 496,132 497,126 498,125.6 498.8,136 499.6,140 500.6,153.6 501,130 501.6,100 502.2,95 503.6,97 505.6,98.6 509,99.6 514,100 520,100.4 528,100.6 537.6,100.6" fill="none" stroke="#0b6fc2" stroke-opacity="0.6" stroke-width="0.65" stroke-linejoin="round"/>
<polygon points="461.6,103.59 462,104.04 462.4,103.71 462.8,103.91 463.2,103.82 463.6,103.91 464,103.91 464.4,104 464.8,103.74 465.2,104.02 465.6,103.56 466,104.05 466.4,103.56 466.8,103.97 467.2,104.03 467.6,103.68 468,103.79 468.4,103.66 468.8,103.8 469.2,103.74 469.6,104.03 470,103.71 470.4,103.8 470.8,103.56 471.2,104.07 471.6,104.03 472,103.71 472,104.78 471.6,104.83 471.2,104.86 470.8,105.05 470.4,105.04 470,104.86 469.6,104.76 469.2,104.91 468.8,104.84 468.4,104.98 468,105.24 467.6,105.12 467.2,105.07 466.8,104.92 466.4,104.87 466,104.98 465.6,104.87 465.2,105.12 464.8,104.89 464.4,104.75 464,105.05 463.6,104.98 463.2,104.94 462.8,105.03 462.4,105.11 462,104.95 461.6,105.22" fill="#0b6fc2"/>
<polyline points="474.4,124.92 474.9,125.42 475.4,125.54 475.9,126.08 476.4,125.79 476.9,125.87 477.4,125.55 477.9,126.4 478.4,127.41 478.9,128.89 479.4,128.33 479.9,127.84 480.4,126.91 480.9,128.17 481.4,129.08 481.9,129.13 482.4,128 482.9,127.31 483.4,126.3 483.9,125.79 484.4,124.87 484.9,126.36 485.4,127.4 485.9,127.59 486.4,126.53 486.9,125.86 487.4,125.16 487.9,124.95 488.4,124.27 488.9,125.36 489.4,125.94 489.9,126.98 490.4,126.53 490.9,126.38 491.4,126.69 491.9,129 492.4,130.87 492.9,130.31 493.4,129.26 493.9,128.69 494.4,127.71 494.9,127.23 495.4,128.86 495.9,131.64 496.4,129.5 496.9,126.68 497.4,125.75 497.9,125.78 498,125.5" fill="none" stroke="#0b6fc2" stroke-width="0.7" stroke-linejoin="round" stroke-linecap="round" stroke-opacity="0.75"/>
<polygon points="502.2,94.58 502.6,95.11 503,95.55 503.4,96.31 503.8,96.82 504.2,96.88 504.6,97.38 505,97.68 505.4,97.83 505.8,98.25 506.2,98.42 506.6,98.31 507,98.61 507.4,98.74 507.8,98.65 508.2,98.97 508.6,98.89 509,99.17 509.4,99.21 509.8,99.27 510.2,99.21 510.6,99.24 511,99.32 511.4,99.32 511.8,99.41 512.2,99.28 512.6,99.29 513,99.37 513.4,99.39 513.8,99.63 514.2,99.61 514.6,99.65 515,99.69 515.4,99.48 515.8,99.53 516.2,99.55 516.6,99.68 517,99.84 517.4,99.77 517.8,99.91 518.2,99.69 518.6,99.9 519,99.92 519.4,99.76 519.8,100 520.2,99.81 520.6,100 521,99.9 521.4,100.07 521.8,99.86 522.2,100.01 522.6,100.04 523,99.96 523.4,99.98 523.8,100.09 524.2,100.14 524.6,100.02 525,100.19 525.4,99.95 525.8,100.12 526.2,100.18 526.6,100.14 527,100.21 527.4,100.16 527.8,100.11 528.2,100.15 528.6,100.17 529,100.19 529.4,100.13 529.8,100.05 530.2,100.14 530.6,100.05 531,100.13 531.4,100.24 531.8,100.22 532.2,100.03 532.6,100.13 533,100.16 533.4,100.12 533.8,100.03 534.2,100.16 534.6,100.17 535,100.16 535.4,100.27 535.8,100.11 536.2,100.13 536.6,100.13 537,100.14 537.4,100.13 537.6,100.06 537.6,101.07 537.4,101.11 537,101.1 536.6,101.12 536.2,101.06 535.8,101.12 535.4,101.2 535,101.03 534.6,101.1 534.2,101.03 533.8,100.96 533.4,100.99 533,101.05 532.6,101.21 532.2,101.05 531.8,101.1 531.4,101.14 531,101.2 530.6,100.95 530.2,101.02 529.8,101.15 529.4,101.15 529,101.03 528.6,101.02 528.2,101.13 527.8,101.07 527.4,101.03 527,101.03 526.6,101.15 526.2,100.93 525.8,100.94 525.4,100.95 525,101.1 524.6,101.08 524.2,101.04 523.8,100.86 523.4,101.01 523,100.96 522.6,100.92 522.2,101.03 521.8,100.81 521.4,100.93 521,100.82 520.6,101.02 520.2,100.89 519.8,100.77 519.4,100.69 519,100.86 518.6,100.86 518.2,100.79 517.8,100.8 517.4,100.76 517,100.59 516.6,100.77 516.2,100.62 515.8,100.46 515.4,100.63 515,100.46 514.6,100.38 514.2,100.53 513.8,100.39 513.4,100.52 513,100.27 512.6,100.24 512.2,100.44 511.8,100.18 511.4,100.28 511,100.34 510.6,100.25 510.2,100.31 509.8,100.22 509.4,100.18 509,100.06 508.6,100.03 508.2,99.73 507.8,99.69 507.4,99.47 507,99.62 506.6,99.48 506.2,99.35 505.8,99.23 505.4,98.93 505,98.47 504.6,98.21 504.2,98.04 503.8,97.54 503.4,97.29 503,96.51 502.6,96.18 502.2,95.38" fill="#0b6fc2"/>
</g>
<g>
<rect x="32.5" y="170" width="83" height="65.6" fill="#fff" stroke="#c6c6c6" stroke-width="0.6"/>
<path d="M32.5 235.6v-0.9M32.5 170v0.9M41.72 235.6v-0.9M41.72 170v0.9M50.94 235.6v-0.9M50.94 170v0.9M60.17 235.6v-0.9M60.17 170v0.9M69.39 235.6v-0.9M69.39 170v0.9M78.61 235.6v-0.9M78.61 170v0.9M87.83 235.6v-0.9M87.83 170v0.9M97.06 235.6v-0.9M97.06 170v0.9M106.28 235.6v-0.9M106.28 170v0.9M115.5 235.6v-0.9M115.5 170v0.9M32.5 170h0.9M115.5 170h-0.9M32.5 196.45h0.9M115.5 196.45h-0.9M32.5 222.9h0.9M115.5 222.9h-0.9" stroke="#bdbdbd" stroke-width="0.4" fill="none"/>
<text x="31.8" y="172.35" textLength="5.47" lengthAdjust="spacingAndGlyphs" class="k e">29</text>
<text x="31.8" y="198.8" textLength="5.47" lengthAdjust="spacingAndGlyphs" class="k e">28</text>
<text x="31.8" y="225.25" textLength="5.47" lengthAdjust="spacingAndGlyphs" class="k e">27</text>
<text x="32.6" y="240.9" textLength="2.74" lengthAdjust="spacingAndGlyphs" class="k m">0</text>
<text x="41.82" y="240.9" textLength="2.74" lengthAdjust="spacingAndGlyphs" class="k m">1</text>
<text x="51.04" y="240.9" textLength="2.74" lengthAdjust="spacingAndGlyphs" class="k m">2</text>
<text x="60.27" y="240.9" textLength="2.74" lengthAdjust="spacingAndGlyphs" class="k m">3</text>
<text x="69.49" y="240.9" textLength="2.74" lengthAdjust="spacingAndGlyphs" class="k m">4</text>
<text x="78.71" y="240.9" textLength="2.74" lengthAdjust="spacingAndGlyphs" class="k m">5</text>
<text x="87.93" y="240.9" textLength="2.74" lengthAdjust="spacingAndGlyphs" class="k m">6</text>
<text x="97.16" y="240.9" textLength="2.74" lengthAdjust="spacingAndGlyphs" class="k m">7</text>
<text x="106.38" y="240.9" textLength="2.74" lengthAdjust="spacingAndGlyphs" class="k m">8</text>
<text x="115.6" y="240.9" textLength="2.74" lengthAdjust="spacingAndGlyphs" class="k m">9</text>
<text x="75.6" y="246.5" textLength="18.5" lengthAdjust="spacingAndGlyphs" class="t m">Time [s]</text>
<polyline points="32.6,178 43,178 43.4,180 45.2,217.8 46,222.2 48.2,220.42 50.9,219.94 53.64,218.06 56.36,216.16 58,215.68 60.18,217.1 61.8,218.06 64.54,216.8 67.26,215.5 70,216.64 72.72,215.68 74.9,215.22 77.08,215.4 78.72,214.74 80.9,215.22 83.08,215.98 85.26,214.74 86.9,213.78 89.08,214.56 91.26,214.56 93.44,214.08 95.9,213.78 97.1,194 98.1,178 98.9,173.2 99.7,172.2 100.7,172.4 102.5,173.6 105.5,174.4 108.5,175" fill="none" stroke="#0b6fc2" stroke-opacity="0.6" stroke-width="0.65" stroke-linejoin="round"/>
<polygon points="32.6,176.64 33,176.66 33.4,176.48 33.8,176.82 34.2,176.51 34.6,176.76 35,176.47 35.4,176.88 35.8,176.66 36.2,176.69 36.6,176.54 37,176.81 37.4,176.78 37.8,176.85 38.2,176.62 38.6,176.62 39,176.92 39.4,176.83 39.8,176.81 40.2,176.41 40.6,176.68 41,176.62 41.4,176.77 41.8,176.57 42.2,176.49 42.6,176.57 43,176.92 43,179.11 42.6,179.41 42.2,179.46 41.8,179.21 41.4,179.39 41,179.53 40.6,179.13 40.2,179.16 39.8,179.1 39.4,179.08 39,179.26 38.6,179.36 38.2,179.27 37.8,179.37 37.4,179.11 37,179.26 36.6,179.35 36.2,179.53 35.8,179.34 35.4,179.39 35,179.41 34.6,179.23 34.2,179.25 33.8,179.5 33.4,179.1 33,179.34 32.6,179.31" fill="#0b6fc2"/>
<polygon points="46,221.41 46.4,221.51 46.8,220.58 47.2,220.3 47.6,220.42 48,220.1 48.4,219.95 48.8,219.27 49.2,218.98 49.6,219.07 50,218.85 50.4,218.82 50.8,219.22 51.2,218.54 51.6,218.3 52,218.12 52.4,218.21 52.8,218.27 53.2,218.11 53.6,217.52 54,217.47 54.4,216.75 54.8,216.52 55.2,215.93 55.6,215.82 56,215.49 56.4,214.92 56.8,215.06 57.2,215.22 57.6,215.07 58,215.13 58.4,215.11 58.8,215.25 59.2,215.45 59.6,215.53 60,216.13 60.4,216.67 60.8,217.21 61.2,217.47 61.6,217.35 62,217.35 62.4,217.31 62.8,217.37 63.2,216.77 63.6,216.64 64,216.53 64.4,216.17 64.8,216.09 65.2,215.88 65.6,215.74 66,215.33 66.4,215.5 66.8,214.76 67.2,214.27 67.6,214.59 68,214.82 68.4,214.75 68.8,215.41 69.2,215.02 69.6,215.32 70,215.53 70.4,215.68 70.8,215.54 71.2,215.93 71.6,215.4 72,215.21 72.4,214.38 72.8,214.55 73.2,214.9 73.6,214.76 74,214.81 74.4,214.52 74.8,214.7 75.2,214.39 75.6,214.64 76,214.69 76.4,215.14 76.8,214.64 77.2,215.13 77.6,214.58 78,214.46 78.4,214.64 78.8,214.34 79.2,214.01 79.6,214.01 80,214.04 80.4,213.79 80.8,214.26 81.2,214.09 81.6,214.6 82,214.99 82.4,214.56 82.8,215.32 83.2,215.25 83.6,214.72 84,215.01 84.4,214.58 84.8,214.21 85.2,214.23 85.6,214.23 86,213.67 86.4,213.35 86.8,213.26 87.2,213.34 87.6,213.75 88,213.83 88.4,213.5 88.8,213.58 89.2,214.23 89.6,213.99 90,213.86 90.4,213.53 90.8,213.98 91.2,214.05 91.6,213.66 92,214.05 92.4,213.47 92.8,213.75 93.2,213.39 93.6,213.26 94,213.48 94.4,212.9 94.8,213.09 95.2,213.17 95.6,213.26 95.9,212.84 95.9,214.42 95.6,214.53 95.2,214.63 94.8,214.46 94.4,214.92 94,214.58 93.6,214.66 93.2,215.46 92.8,215.32 92.4,215.44 92,215.1 91.6,215.56 91.2,215.54 90.8,215.56 90.4,215.34 90,215.16 89.6,215.35 89.2,215.42 88.8,215.21 88.4,215.47 88,215.45 87.6,215.16 87.2,215.24 86.8,214.9 86.4,215.39 86,215.28 85.6,215.95 85.2,215.92 84.8,215.77 84.4,216.25 84,216.1 83.6,216.18 83.2,216.68 82.8,216.58 82.4,216.44 82,216.1 81.6,216.2 81.2,215.67 80.8,215.7 80.4,215.28 80,215.26 79.6,215.53 79.2,215.93 78.8,216.01 78.4,216.1 78,216.06 77.6,216.46 77.2,216.46 76.8,216.22 76.4,216.05 76,216.22 75.6,216.04 75.2,216.02 74.8,216.28 74.4,215.75 74,216.31 73.6,216.7 73.2,216.13 72.8,216.49 72.4,216.04 72,216.69 71.6,216.91 71.2,217.5 70.8,217.34 70.4,217.28 70,216.92 69.6,217.23 69.2,216.41 68.8,216.89 68.4,216.22 68,216.55 67.6,216.16 67.2,215.91 66.8,216.06 66.4,216.82 66,217.11 65.6,217.62 65.2,217.75 64.8,217.77 64.4,217.49 64,217.8 63.6,218.47 63.2,218.69 62.8,218.5 62.4,219.19 62,219.24 61.6,219.07 61.2,219.1 60.8,218.32 60.4,218.33 60,217.74 59.6,217.09 59.2,216.5 58.8,216.72 58.4,216.76 58,216.73 57.6,216.88 57.2,216.69 56.8,216.9 56.4,216.94 56,217.13 55.6,217.43 55.2,217.39 54.8,217.76 54.4,218.52 54,218.57 53.6,218.84 53.2,219.32 52.8,219.93 52.4,219.97 52,220.21 51.6,219.74 51.2,220.53 50.8,220.36 50.4,220.69 50,220.44 49.6,220.41 49.2,220.75 48.8,221.36 48.4,221.35 48,221.38 47.6,221.69 47.2,221.6 46.8,222.42 46.4,222.56 46,223.22" fill="#0b6fc2"/>
<polygon points="99.7,171.64 100.1,171.69 100.5,171.65 100.9,171.95 101.3,172.14 101.7,172.55 102.1,172.7 102.5,173 102.9,173.06 103.3,173.13 103.7,173.47 104.1,173.32 104.5,173.53 104.9,173.74 105.3,173.78 105.7,173.98 106.1,174.02 106.5,173.93 106.9,174.05 107.3,174.08 107.7,174.36 108.1,174.46 108.5,174.46 108.5,175.48 108.1,175.38 107.7,175.39 107.3,175.47 106.9,175.11 106.5,175.07 106.1,175.18 105.7,175.14 105.3,174.88 104.9,174.85 104.5,174.71 104.1,174.59 103.7,174.36 103.3,174.3 102.9,174.31 102.5,174.05 102.1,173.99 101.7,173.58 101.3,173.4 100.9,173.18 100.5,172.88 100.1,172.91 99.7,172.77" fill="#0b6fc2"/>
</g>
<g>
<rect x="140" y="170" width="83" height="65.6" fill="#fff" stroke="#c6c6c6" stroke-width="0.6"/>
<path d="M140 235.6v-0.9M140 170v0.9M149.22 235.6v-0.9M149.22 170v0.9M158.44 235.6v-0.9M158.44 170v0.9M167.67 235.6v-0.9M167.67 170v0.9M176.89 235.6v-0.9M176.89 170v0.9M186.11 235.6v-0.9M186.11 170v0.9M195.33 235.6v-0.9M195.33 170v0.9M204.56 235.6v-0.9M204.56 170v0.9M213.78 235.6v-0.9M213.78 170v0.9M223 235.6v-0.9M223 170v0.9M140 170h0.9M223 170h-0.9M140 196.45h0.9M223 196.45h-0.9M140 222.9h0.9M223 222.9h-0.9" stroke="#bdbdbd" stroke-width="0.4" fill="none"/>
<text x="139.3" y="172.35" textLength="5.47" lengthAdjust="spacingAndGlyphs" class="k e">29</text>
<text x="139.3" y="198.8" textLength="5.47" lengthAdjust="spacingAndGlyphs" class="k e">28</text>
<text x="139.3" y="225.25" textLength="5.47" lengthAdjust="spacingAndGlyphs" class="k e">27</text>
<text x="140.1" y="240.9" textLength="2.74" lengthAdjust="spacingAndGlyphs" class="k m">0</text>
<text x="149.32" y="240.9" textLength="2.74" lengthAdjust="spacingAndGlyphs" class="k m">1</text>
<text x="158.54" y="240.9" textLength="2.74" lengthAdjust="spacingAndGlyphs" class="k m">2</text>
<text x="167.77" y="240.9" textLength="2.74" lengthAdjust="spacingAndGlyphs" class="k m">3</text>
<text x="176.99" y="240.9" textLength="2.74" lengthAdjust="spacingAndGlyphs" class="k m">4</text>
<text x="186.21" y="240.9" textLength="2.74" lengthAdjust="spacingAndGlyphs" class="k m">5</text>
<text x="195.43" y="240.9" textLength="2.74" lengthAdjust="spacingAndGlyphs" class="k m">6</text>
<text x="204.66" y="240.9" textLength="2.74" lengthAdjust="spacingAndGlyphs" class="k m">7</text>
<text x="213.88" y="240.9" textLength="2.74" lengthAdjust="spacingAndGlyphs" class="k m">8</text>
<text x="223.1" y="240.9" textLength="2.74" lengthAdjust="spacingAndGlyphs" class="k m">9</text>
<text x="183.1" y="246.5" textLength="18.5" lengthAdjust="spacingAndGlyphs" class="t m">Time [s]</text>
<polyline points="140,179.6 150,179.6 150.4,181.6 152.2,219.6 153,224 155,221.6 157,219.6 159,218 161,217 163,218.6 165,216.4 167,217.2 169,218.6 172,217.6 175,216 177,217.6 180,216.4 182,217 185,215 187.4,214.4 190,215.6 193,215.6 196,215.6 198,214 200,215.2 203,214.8 203.8,194 204.8,176 205.6,172.8 206.4,171.8 208,173 211,174 214,174.8 215.4,175.2" fill="none" stroke="#0b6fc2" stroke-opacity="0.6" stroke-width="0.65" stroke-linejoin="round"/>
<polygon points="140,178.65 140.4,178.93 140.8,178.82 141.2,178.66 141.6,178.83 142,178.67 142.4,178.52 142.8,178.6 143.2,178.69 143.6,178.69 144,178.86 144.4,178.68 144.8,178.68 145.2,178.71 145.6,178.76 146,178.62 146.4,178.91 146.8,178.64 147.2,178.5 147.6,179 148,178.89 148.4,178.5 148.8,178.98 149.2,178.59 149.6,178.71 150,178.98 150,180.62 149.6,180.27 149.2,180.31 148.8,180.64 148.4,180.43 148,180.36 147.6,180.68 147.2,180.4 146.8,180.47 146.4,180.42 146,180.35 145.6,180.31 145.2,180.63 144.8,180.24 144.4,180.22 144,180.23 143.6,180.58 143.2,180.26 142.8,180.39 142.4,180.25 142,180.65 141.6,180.67 141.2,180.34 140.8,180.63 140.4,180.18 140,180.51" fill="#0b6fc2"/>
<polygon points="153,223.27 153.4,222.6 153.8,222.41 154.2,222.06 154.6,221.66 155,221.5 155.4,220.68 155.8,220.21 156.2,219.73 156.6,219.23 157,218.99 157.4,218.73 157.8,217.85 158.2,217.82 158.6,217.68 159,217.03 159.4,217.4 159.8,217.14 160.2,217.03 160.6,216.81 161,216.43 161.4,216.38 161.8,217.04 162.2,216.88 162.6,217.55 163,217.44 163.4,217.5 163.8,216.9 164.2,216.78 164.6,216.54 165,216.06 165.4,216.2 165.8,216 166.2,216.13 166.6,216.37 167,216.66 167.4,216.66 167.8,217.51 168.2,217.59 168.6,217.57 169,218.01 169.4,218.05 169.8,217.41 170.2,217.87 170.6,217.71 171,217.62 171.4,217.17 171.8,216.71 172.2,216.86 172.6,216.57 173,216.09 173.4,216.56 173.8,216.6 174.2,216.02 174.6,216.22 175,215.73 175.4,216.2 175.8,216.1 176.2,216.15 176.6,216.64 177,216.97 177.4,216.64 177.8,216.64 178.2,217.13 178.6,216.73 179,216.24 179.4,215.76 179.8,215.75 180.2,215.46 180.6,215.88 181,215.71 181.4,216.35 181.8,216.67 182.2,216.76 182.6,216.53 183,216.15 183.4,215.35 183.8,215.32 184.2,214.88 184.6,214.11 185,213.8 185.4,214.12 185.8,214.66 186.2,214.51 186.6,214.02 187,213.81 187.4,213.63 187.8,213.97 188.2,214.2 188.6,214.25 189,214.74 189.4,215.18 189.8,215.28 190.2,215.21 190.6,215.13 191,215.56 191.4,215 191.8,215.08 192.2,214.94 192.6,214.3 193,214.69 193.4,215.22 193.8,215.59 194.2,215.17 194.6,215.02 195,214.92 195.4,214.98 195.8,214.53 196.2,214.75 196.6,214.34 197,214.44 197.4,214.32 197.8,213.69 198.2,213.86 198.6,214.06 199,213.88 199.4,214.19 199.8,214.31 200.2,214.22 200.6,214.29 201,214.57 201.4,215 201.8,214.7 202.2,214.49 202.6,214.18 203,213.94 203,215.17 202.6,215.06 202.2,215.67 201.8,216.01 201.4,216.14 201,216.22 200.6,215.63 200.2,215.43 199.8,215.17 199.4,214.96 199,215.08 198.6,215.09 198.2,214.79 197.8,215.1 197.4,215.4 197,215.86 196.6,215.6 196.2,215.99 195.8,215.64 195.4,216.21 195,216.24 194.6,215.94 194.2,216.65 193.8,216.78 193.4,216.12 193,215.9 192.6,216.12 192.2,216.22 191.8,216.07 191.4,216.63 191,216.67 190.6,216.34 190.2,216.57 189.8,216.39 189.4,216.52 189,215.89 188.6,215.71 188.2,215.11 187.8,215.22 187.4,214.41 187,215.05 186.6,215.11 186.2,215.75 185.8,215.75 185.4,215.53 185,215.24 184.6,215.87 184.2,215.77 183.8,216.22 183.4,217.04 183,217.01 182.6,217.17 182.2,217.66 181.8,217.55 181.4,217.43 181,217.27 180.6,217.09 180.2,216.74 179.8,216.76 179.4,217.23 179,217.1 178.6,217.89 178.2,218.02 177.8,218.05 177.4,217.72 177,217.88 176.6,217.9 176.2,217.87 175.8,217.13 175.4,217.38 175,216.76 174.6,217.28 174.2,217.36 173.8,217.61 173.4,217.73 173,217.74 172.6,217.54 172.2,217.98 171.8,218.19 171.4,218.14 171,218.38 170.6,218.91 170.2,219.06 169.8,219.06 169.4,219.22 169,219.3 168.6,219.34 168.2,218.84 167.8,218.64 167.4,218.42 167,218 166.6,217.19 166.2,217.05 165.8,217.37 165.4,217.07 165,217.58 164.6,217.84 164.2,217.62 163.8,218.13 163.4,218.22 163,218.99 162.6,218.64 162.2,218.18 161.8,217.98 161.4,217.72 161,217.46 160.6,217.8 160.2,217.99 159.8,218.26 159.4,218.51 159,218.78 158.6,218.46 158.2,218.73 157.8,219.34 157.4,219.74 157,219.77 156.6,220.57 156.2,220.9 155.8,221.32 155.4,222.09 155,222.44 154.6,223.23 154.2,223.62 153.8,223.81 153.4,224.14 153,224.12" fill="#0b6fc2"/>
<polygon points="206.4,171.05 206.8,171.37 207.2,171.63 207.6,171.98 208,172.32 208.4,172.43 208.8,172.52 209.2,172.8 209.6,173.04 210,173.1 210.4,173.32 210.8,173.37 211.2,173.4 211.6,173.6 212,173.72 212.4,173.87 212.8,173.9 213.2,173.96 213.6,174.04 214,174.05 214.4,174.41 214.8,174.48 215.2,174.64 215.4,174.45 215.4,175.93 215.2,175.71 214.8,175.74 214.4,175.58 214,175.52 213.6,175.34 213.2,175.17 212.8,175.12 212.4,174.96 212,174.79 211.6,174.77 211.2,174.74 210.8,174.49 210.4,174.36 210,174.23 209.6,174.23 209.2,174 208.8,173.93 208.4,173.71 208,173.74 207.6,173.18 207.2,173.11 206.8,172.77 206.4,172.46" fill="#0b6fc2"/>
</g>
<g>
<rect x="247" y="170" width="83" height="65.6" fill="#fff" stroke="#c6c6c6" stroke-width="0.6"/>
<path d="M247 235.6v-0.9M247 170v0.9M256.22 235.6v-0.9M256.22 170v0.9M265.44 235.6v-0.9M265.44 170v0.9M274.67 235.6v-0.9M274.67 170v0.9M283.89 235.6v-0.9M283.89 170v0.9M293.11 235.6v-0.9M293.11 170v0.9M302.33 235.6v-0.9M302.33 170v0.9M311.56 235.6v-0.9M311.56 170v0.9M320.78 235.6v-0.9M320.78 170v0.9M330 235.6v-0.9M330 170v0.9M247 170h0.9M330 170h-0.9M247 191.87h0.9M330 191.87h-0.9M247 213.73h0.9M330 213.73h-0.9M247 235.6h0.9M330 235.6h-0.9" stroke="#bdbdbd" stroke-width="0.4" fill="none"/>
<text x="246.3" y="172.35" textLength="9.57" lengthAdjust="spacingAndGlyphs" class="k e">29.5</text>
<text x="246.3" y="194.22" textLength="9.57" lengthAdjust="spacingAndGlyphs" class="k e">28.5</text>
<text x="246.3" y="216.08" textLength="9.57" lengthAdjust="spacingAndGlyphs" class="k e">27.5</text>
<text x="246.3" y="237.15" textLength="9.57" lengthAdjust="spacingAndGlyphs" class="k e">26.5</text>
<text x="247.1" y="240.9" textLength="2.74" lengthAdjust="spacingAndGlyphs" class="k m">0</text>
<text x="256.32" y="240.9" textLength="2.74" lengthAdjust="spacingAndGlyphs" class="k m">1</text>
<text x="265.54" y="240.9" textLength="2.74" lengthAdjust="spacingAndGlyphs" class="k m">2</text>
<text x="274.77" y="240.9" textLength="2.74" lengthAdjust="spacingAndGlyphs" class="k m">3</text>
<text x="283.99" y="240.9" textLength="2.74" lengthAdjust="spacingAndGlyphs" class="k m">4</text>
<text x="293.21" y="240.9" textLength="2.74" lengthAdjust="spacingAndGlyphs" class="k m">5</text>
<text x="302.43" y="240.9" textLength="2.74" lengthAdjust="spacingAndGlyphs" class="k m">6</text>
<text x="311.66" y="240.9" textLength="2.74" lengthAdjust="spacingAndGlyphs" class="k m">7</text>
<text x="320.88" y="240.9" textLength="2.74" lengthAdjust="spacingAndGlyphs" class="k m">8</text>
<text x="330.1" y="240.9" textLength="2.74" lengthAdjust="spacingAndGlyphs" class="k m">9</text>
<text x="290.1" y="246.5" textLength="18.5" lengthAdjust="spacingAndGlyphs" class="t m">Time [s]</text>
<polyline points="247,188 257.4,188 257.8,190 259.2,221.6 260,226 261,225 263,223.6 265,223 267,221.6 268.6,219 270.6,219 272.2,220 273.4,224.4 275,222.4 276.4,225 277.4,230 278.6,225.6 280,222 281,221 282,218 282.6,222 283.6,225.6 285,222.4 286.6,220 288,218.6 289.4,220 291,224 292.6,228 294,222.4 295.4,218.4 296.4,217 297.4,222.4 298.6,226.4 300,223 301.4,219.6 302.6,221 304,218 305.4,217.4 306.6,221.6 308,218 309.4,216.4 310.6,215.6 311.2,200 312,186 312.8,181.6 313.6,180.8 315,181.6 318,182.6 321,183.4 322.6,183.6" fill="none" stroke="#0b6fc2" stroke-opacity="0.6" stroke-width="0.65" stroke-linejoin="round"/>
<polygon points="247,186.62 247.4,186.84 247.8,187.11 248.2,187.07 248.6,186.72 249,186.66 249.4,186.74 249.8,186.85 250.2,186.83 250.6,187.06 251,186.8 251.4,186.59 251.8,187.01 252.2,186.8 252.6,186.67 253,186.78 253.4,186.93 253.8,186.99 254.2,186.73 254.6,186.63 255,186.66 255.4,186.91 255.8,186.73 256.2,186.69 256.6,186.92 257,186.72 257.4,186.92 257.4,189.17 257,188.92 256.6,189.04 256.2,189.21 255.8,189.14 255.4,189.17 255,189.28 254.6,189.38 254.2,188.98 253.8,189.09 253.4,189.23 253,189.15 252.6,189.11 252.2,189.33 251.8,189.06 251.4,189.17 251,189.19 250.6,188.98 250.2,189.27 249.8,188.99 249.4,189.05 249,188.91 248.6,188.9 248.2,189.28 247.8,189.26 247.4,188.88 247,188.99" fill="#0b6fc2"/>
<polyline points="260,225.24 260.25,226.15 260.5,224.71 260.75,225.77 261,224.2 261.25,225.52 261.5,224.17 261.75,224.93 262,223.55 262.25,224.92 262.5,223.24 262.75,224.39 263,223 263.25,224.23 263.5,222.73 263.75,224.1 264,222.81 264.25,223.95 264.5,222.37 264.75,223.69 265,222.64 265.25,223.27 265.5,222 265.75,223.02 266,221.54 266.25,222.77 266.5,221.28 266.75,222.2 267,221.01 267.25,221.87 267.5,220.02 267.75,221.14 268,219.5 268.25,220.15 268.5,218.37 268.75,219.4 269,218.61 269.25,219.44 269.5,218.32 269.75,219.5 270,218.33 270.25,219.72 270.5,218.28 270.75,219.47 271,218.59 271.25,220.12 271.5,218.89 271.75,220.46 272,219.16 272.25,220.81 272.5,220.36 272.75,222.62 273,222.53 273.25,224.34 273.5,223.5 273.75,224.47 274,223.08 274.25,224.08 274.5,222.36 274.75,223.42 275,221.83 275.25,223.45 275.5,222.93 275.75,224.24 276,223.83 276.25,225.32 276.5,224.91 276.75,227.14 277,227.36 277.25,229.65 277.5,229.1 277.75,229.09 278,227.23 278.25,227.31 278.5,225.19 278.75,225.73 279,223.85 279.25,224.48 279.5,222.78 279.75,223.37 280,221.52 280.25,222.34 280.5,220.86 280.75,222.05 281,220.33 281.25,220.63 281.5,218.94 281.75,219.53 282,217.26 282.25,220.19 282.5,220.92 282.75,223.02 283,222.75 283.25,224.78 283.5,224.49 283.75,225.73 284,224.02 284.25,224.78 284.5,223.08 284.75,223.56 285,221.76 285.25,222.5 285.5,221.06 285.75,221.91 286,220.12 286.25,221.01 286.5,219.71 286.75,220.43 287,218.98 287.25,219.92 287.5,218.34 287.75,219.3 288,218.02 288.25,219.42 288.5,218.65 288.75,219.91 289,219.04 289.25,220.38 289.5,219.55 289.75,221.67 290,220.71 290.25,222.58 290.5,222.23 290.75,224.15 291,223.6 291.25,225.02 291.5,224.86 291.75,226.66 292,225.92 292.25,227.68 292.5,227.35 292.75,228.15 293,225.6 293.25,226.06 293.5,223.64 293.75,224.01 294,221.9 294.25,222.12 294.5,220.48 294.75,220.68 295,219.02 295.25,219.21 295.5,217.88 295.75,218.66 296,216.83 296.25,217.93 296.5,217.03 296.75,219.45 297,219.64 297.25,222.3 297.5,222.24 297.75,224.15 298,223.8 298.25,225.96 298.5,225.55 298.75,226.4 299,224.89 299.25,225.57 299.5,223.78 299.75,224.24 300,222.58 300.25,222.87 300.5,221.15 300.75,221.58 301,220.01 301.25,220.58 301.5,219.19 301.75,220.7 302,219.57 302.25,221.07 302.5,220.19 302.75,221.37 303,219.52 303.25,220.23 303.5,218.46 303.75,219.22 304,217.34 304.25,218.37 304.5,217.14 304.75,218.35 305,217.01 305.25,218.22 305.5,217.25 305.75,219.23 306,218.89 306.25,221 306.5,220.81 306.75,221.87 307,220.16 307.25,220.52 307.5,218.73 307.75,219.31 308,217.26 308.25,218.51 308.5,216.97 308.75,217.9 309,216.29 309.25,217.15 309.5,215.96 309.75,216.9 310,215.54 310.25,216.32 310.5,215.17 310.6,216.06" fill="none" stroke="#0b6fc2" stroke-width="0.65" stroke-linejoin="round" stroke-linecap="round" stroke-opacity="0.95"/>
<polygon points="313.6,180.24 314,180.47 314.4,180.62 314.8,180.9 315.2,180.97 315.6,181.05 316,181.18 316.4,181.48 316.8,181.52 317.2,181.64 317.6,181.78 318,182.01 318.4,182.17 318.8,182.12 319.2,182.25 319.6,182.45 320,182.46 320.4,182.74 320.8,182.64 321.2,182.69 321.6,182.72 322,183.01 322.4,182.9 322.6,182.89 322.6,184.22 322.4,184.1 322,184.08 321.6,184.14 321.2,184.1 320.8,183.9 320.4,183.83 320,183.74 319.6,183.56 319.2,183.5 318.8,183.48 318.4,183.44 318,183.32 317.6,182.99 317.2,183.09 316.8,182.91 316.4,182.72 316,182.66 315.6,182.36 315.2,182.15 314.8,182.03 314.4,181.79 314,181.68 313.6,181.32" fill="#0b6fc2"/>
</g>
<g>
<rect x="354.4" y="170" width="83" height="65.6" fill="#fff" stroke="#c6c6c6" stroke-width="0.6"/>
<path d="M354.4 235.6v-0.9M354.4 170v0.9M363.62 235.6v-0.9M363.62 170v0.9M372.84 235.6v-0.9M372.84 170v0.9M382.07 235.6v-0.9M382.07 170v0.9M391.29 235.6v-0.9M391.29 170v0.9M400.51 235.6v-0.9M400.51 170v0.9M409.73 235.6v-0.9M409.73 170v0.9M418.96 235.6v-0.9M418.96 170v0.9M428.18 235.6v-0.9M428.18 170v0.9M437.4 235.6v-0.9M437.4 170v0.9M354.4 170h0.9M437.4 170h-0.9M354.4 188.74h0.9M437.4 188.74h-0.9M354.4 207.49h0.9M437.4 207.49h-0.9M354.4 226.23h0.9M437.4 226.23h-0.9" stroke="#bdbdbd" stroke-width="0.4" fill="none"/>
<text x="353.7" y="172.35" textLength="9.57" lengthAdjust="spacingAndGlyphs" class="k e">29.5</text>
<text x="353.7" y="191.09" textLength="9.57" lengthAdjust="spacingAndGlyphs" class="k e">28.5</text>
<text x="353.7" y="209.84" textLength="9.57" lengthAdjust="spacingAndGlyphs" class="k e">27.5</text>
<text x="353.7" y="228.58" textLength="9.57" lengthAdjust="spacingAndGlyphs" class="k e">26.5</text>
<text x="354.5" y="240.9" textLength="2.74" lengthAdjust="spacingAndGlyphs" class="k m">0</text>
<text x="363.72" y="240.9" textLength="2.74" lengthAdjust="spacingAndGlyphs" class="k m">1</text>
<text x="372.94" y="240.9" textLength="2.74" lengthAdjust="spacingAndGlyphs" class="k m">2</text>
<text x="382.17" y="240.9" textLength="2.74" lengthAdjust="spacingAndGlyphs" class="k m">3</text>
<text x="391.39" y="240.9" textLength="2.74" lengthAdjust="spacingAndGlyphs" class="k m">4</text>
<text x="400.61" y="240.9" textLength="2.74" lengthAdjust="spacingAndGlyphs" class="k m">5</text>
<text x="409.83" y="240.9" textLength="2.74" lengthAdjust="spacingAndGlyphs" class="k m">6</text>
<text x="419.06" y="240.9" textLength="2.74" lengthAdjust="spacingAndGlyphs" class="k m">7</text>
<text x="428.28" y="240.9" textLength="2.74" lengthAdjust="spacingAndGlyphs" class="k m">8</text>
<text x="437.5" y="240.9" textLength="2.74" lengthAdjust="spacingAndGlyphs" class="k m">9</text>
<text x="397.5" y="246.5" textLength="18.5" lengthAdjust="spacingAndGlyphs" class="t m">Time [s]</text>
<polyline points="354.4,184.6 364.6,184.6 365,186.6 366.2,211.2 367,215.6 368,217 369.6,216.4 371,220 372.4,218 373.6,216.4 375,218 376.4,215.6 378,217 379,215 380,219 381.4,223 382.6,218 384,214 385.2,215.6 386.4,214.4 387.6,220 389,221.6 390,219.6 391,223 392,224.4 393,217 394,219.6 395.4,222.4 396.6,223.6 398,219.6 399.4,217 400.6,213 402,217 403.2,221 404.4,218 405.6,214.4 406.8,216 408,212.4 409.2,215 410.4,218 411.6,216 412.8,220.4 414,225 414.8,228 415.6,221 416.6,216.4 417.6,212.4 418.4,210.6 418.8,198 419.6,188 420.2,180 421,177.8 422,178.4 424,179.4 427,180.2 429.6,180.6" fill="none" stroke="#0b6fc2" stroke-opacity="0.6" stroke-width="0.65" stroke-linejoin="round"/>
<polygon points="354.4,183.44 354.8,183.47 355.2,183.48 355.6,183.35 356,183.42 356.4,183.59 356.8,183.43 357.2,183.47 357.6,183.64 358,183.73 358.4,183.62 358.8,183.44 359.2,183.42 359.6,183.66 360,183.53 360.4,183.78 360.8,183.5 361.2,183.58 361.6,183.41 362,183.37 362.4,183.79 362.8,183.31 363.2,183.73 363.6,183.31 364,183.3 364.4,183.7 364.6,183.67 364.6,185.72 364.4,185.7 364,185.83 363.6,185.6 363.2,185.4 362.8,185.47 362.4,185.44 362,185.77 361.6,185.62 361.2,185.67 360.8,185.6 360.4,185.63 360,185.8 359.6,185.68 359.2,185.68 358.8,185.55 358.4,185.75 358,185.6 357.6,185.55 357.2,185.57 356.8,185.79 356.4,185.57 356,185.81 355.6,185.89 355.2,185.78 354.8,185.86 354.4,185.46" fill="#0b6fc2"/>
<polyline points="367,215.21 367.25,216.31 367.5,216.06 367.75,216.88 368,216.7 368.25,217.14 368.5,216.5 368.75,216.92 369,216.36 369.25,216.87 369.5,216.2 369.75,217 370,217.08 370.25,218.29 370.5,218.34 370.75,219.67 371,219.62 371.25,219.94 371.5,219 371.75,219.17 372,218.38 372.25,218.6 372.5,217.64 372.75,217.73 373,216.81 373.25,217.16 373.5,216.23 373.75,216.95 374,216.52 374.25,217.38 374.5,217.19 374.75,218.04 375,217.67 375.25,217.8 375.5,216.91 375.75,217.01 376,216.09 376.25,216.21 376.5,215.36 376.75,216.12 377,215.82 377.25,216.65 377.5,216.36 377.75,217.06 378,216.65 378.25,216.78 378.5,215.66 378.75,215.73 379,214.6 379.25,216.33 379.5,216.7 379.75,218.18 380,218.74 380.25,219.89 380.5,220.15 380.75,221.36 381,221.62 381.25,222.82 381.5,222.37 381.75,221.78 382,220.21 382.25,219.67 382.5,218.11 382.75,217.96 383,216.52 383.25,216.53 383.5,215.22 383.75,215.04 384,213.77 384.25,214.72 384.5,214.38 384.75,215.34 385,214.98 385.25,215.76 385.5,215.1 385.75,215.41 386,214.44 386.25,214.83 386.5,214.68 386.75,216.22 387,216.84 387.25,218.7 387.5,219.27 387.75,220.5 388,220.1 388.25,220.92 388.5,220.68 388.75,221.71 389,221.23 389.25,221.47 389.5,220.32 389.75,220.41 390,219.39 390.25,220.8 390.5,220.97 390.75,222.42 391,222.81 391.25,223.57 391.5,223.43 391.75,224.43 392,224.12 392.25,222.92 392.5,220.48 392.75,219.09 393,216.77 393.25,217.89 393.5,217.95 393.75,219.21 394,219.35 394.25,220.43 394.5,220.32 394.75,221.47 395,221.27 395.25,222.46 395.5,222.23 395.75,223.02 396,222.72 396.25,223.65 396.5,223.11 396.75,223.48 397,222.17 397.25,221.94 397.5,220.66 397.75,220.63 398,219.33 398.25,219.35 398.5,218.39 398.75,218.54 399,217.5 399.25,217.52 399.5,216.37 399.75,216.12 400,214.82 400.25,214.36 400.5,213.07 400.75,213.76 401,213.88 401.25,215.04 401.5,215.34 401.75,216.51 402,216.65 402.25,218.06 402.5,218.27 402.75,219.74 403,220.11 403.25,221.06 403.5,219.96 403.75,219.92 404,218.65 404.25,218.7 404.5,217.4 404.75,217.14 405,215.82 405.25,215.68 405.5,214.47 405.75,214.82 406,214.62 406.25,215.59 406.5,215.35 406.75,216.17 407,215.22 407.25,214.96 407.5,213.56 407.75,213.36 408,212.17 408.25,213.29 408.5,213.15 408.75,214.24 409,214.17 409.25,215.46 409.5,215.41 409.75,216.63 410,216.61 410.25,217.9 410.5,217.51 410.75,217.81 411,216.64 411.25,216.8 411.5,215.96 411.75,216.78 412,217.26 412.25,218.76 412.5,219 412.75,220.5 413,220.91 413.25,222.41 413.5,222.81 413.75,224.38 414,224.73 414.25,226.31 414.5,226.51 414.75,228.18 415,225.91 415.25,224.28 415.5,221.6 415.75,220.67 416,218.9 416.25,218.32 416.5,216.63 416.75,216.16 417,214.55 417.25,214.06 417.5,212.44 417.75,212.26 418,211.32 418.25,211.21 418.4,210.32" fill="none" stroke="#0b6fc2" stroke-width="0.6" stroke-linejoin="round" stroke-linecap="round" stroke-opacity="0.8"/>
<polygon points="421,177.39 421.4,177.55 421.8,177.68 422.2,177.87 422.6,178.05 423,178.29 423.4,178.7 423.8,178.81 424.2,178.94 424.6,179.17 425,179.06 425.4,179.31 425.8,179.28 426.2,179.41 426.6,179.64 427,179.72 427.4,179.75 427.8,179.89 428.2,180 428.6,179.94 429,180.06 429.4,180.12 429.6,179.99 429.6,181.18 429.4,181.06 429,181.1 428.6,180.88 428.2,180.95 427.8,180.76 427.4,180.88 427,180.84 426.6,180.48 426.2,180.41 425.8,180.36 425.4,180.3 425,180.3 424.6,180.1 424.2,179.91 423.8,179.94 423.4,179.7 423,179.31 422.6,179.16 422.2,179.1 421.8,178.67 421.4,178.54 421,178.39" fill="#0b6fc2"/>
</g>
<g>
<rect x="461.6" y="170" width="83" height="65.6" fill="#fff" stroke="#c6c6c6" stroke-width="0.6"/>
<path d="M461.6 235.6v-0.9M461.6 170v0.9M470.82 235.6v-0.9M470.82 170v0.9M480.04 235.6v-0.9M480.04 170v0.9M489.27 235.6v-0.9M489.27 170v0.9M498.49 235.6v-0.9M498.49 170v0.9M507.71 235.6v-0.9M507.71 170v0.9M516.93 235.6v-0.9M516.93 170v0.9M526.16 235.6v-0.9M526.16 170v0.9M535.38 235.6v-0.9M535.38 170v0.9M544.6 235.6v-0.9M544.6 170v0.9M461.6 170h0.9M544.6 170h-0.9M461.6 191.87h0.9M544.6 191.87h-0.9M461.6 213.73h0.9M544.6 213.73h-0.9M461.6 235.6h0.9M544.6 235.6h-0.9" stroke="#bdbdbd" stroke-width="0.4" fill="none"/>
<text x="460.9" y="172.35" textLength="5.47" lengthAdjust="spacingAndGlyphs" class="k e">30</text>
<text x="460.9" y="194.22" textLength="5.47" lengthAdjust="spacingAndGlyphs" class="k e">28</text>
<text x="460.9" y="216.08" textLength="5.47" lengthAdjust="spacingAndGlyphs" class="k e">26</text>
<text x="460.9" y="237.15" textLength="5.47" lengthAdjust="spacingAndGlyphs" class="k e">24</text>
<text x="461.7" y="240.9" textLength="2.74" lengthAdjust="spacingAndGlyphs" class="k m">0</text>
<text x="470.92" y="240.9" textLength="2.74" lengthAdjust="spacingAndGlyphs" class="k m">1</text>
<text x="480.14" y="240.9" textLength="2.74" lengthAdjust="spacingAndGlyphs" class="k m">2</text>
<text x="489.37" y="240.9" textLength="2.74" lengthAdjust="spacingAndGlyphs" class="k m">3</text>
<text x="498.59" y="240.9" textLength="2.74" lengthAdjust="spacingAndGlyphs" class="k m">4</text>
<text x="507.81" y="240.9" textLength="2.74" lengthAdjust="spacingAndGlyphs" class="k m">5</text>
<text x="517.03" y="240.9" textLength="2.74" lengthAdjust="spacingAndGlyphs" class="k m">6</text>
<text x="526.26" y="240.9" textLength="2.74" lengthAdjust="spacingAndGlyphs" class="k m">7</text>
<text x="535.48" y="240.9" textLength="2.74" lengthAdjust="spacingAndGlyphs" class="k m">8</text>
<text x="544.7" y="240.9" textLength="2.74" lengthAdjust="spacingAndGlyphs" class="k m">9</text>
<text x="504.7" y="246.5" textLength="18.5" lengthAdjust="spacingAndGlyphs" class="t m">Time [s]</text>
<polyline points="461.6,183.6 472,183.6 473,192 473.6,200 474.4,202 476,203.4 477.6,203.6 479,207 480.4,205 481.6,207.6 483,205 484.4,203 485.6,205.6 487,203.6 488.4,202.4 490,204.4 491.2,203.6 492.4,208 493.6,206.4 495,204.4 496,209 497,204 498,203.6 498.8,213 499.6,217 500.6,230 501,206 501.6,179 502.2,175.4 503.6,177 505.6,178.4 509,179.2 514,179.6 520,179.8 528,180 537.6,180" fill="none" stroke="#0b6fc2" stroke-opacity="0.6" stroke-width="0.65" stroke-linejoin="round"/>
<polygon points="461.6,182.99 462,183.23 462.4,182.97 462.8,182.92 463.2,183.25 463.6,183.25 464,183.13 464.4,182.89 464.8,182.75 465.2,183.03 465.6,182.82 466,182.89 466.4,183.13 466.8,183.03 467.2,182.82 467.6,183.02 468,183 468.4,182.89 468.8,183.19 469.2,183.03 469.6,183 470,182.97 470.4,182.9 470.8,183.13 471.2,183.02 471.6,183.03 472,183.22 472,184.13 471.6,184.08 471.2,184.06 470.8,184.12 470.4,184.45 470,184.2 469.6,184.15 469.2,183.94 468.8,184.44 468.4,183.96 468,184.09 467.6,184.36 467.2,184.23 466.8,184.12 466.4,183.93 466,184.28 465.6,184.04 465.2,184.12 464.8,184.43 464.4,184.07 464,184.13 463.6,184.17 463.2,184.13 462.8,184.15 462.4,184.23 462,184.44 461.6,184.35" fill="#0b6fc2"/>
<polyline points="474.4,201.92 474.9,202.58 475.4,202.77 475.9,203.44 476.4,203.36 476.9,203.63 477.4,203.43 477.9,204.42 478.4,205.4 478.9,206.85 479.4,206.3 479.9,205.86 480.4,204.89 480.9,206.23 481.4,207.07 481.9,207.15 482.4,205.97 482.9,205.3 483.4,204.36 483.9,203.79 484.4,202.89 484.9,204.18 485.4,205.09 485.9,205.31 486.4,204.36 486.9,203.88 487.4,203.16 487.9,202.91 488.4,202.3 488.9,203.16 489.4,203.51 489.9,204.39 490.4,204.05 490.9,203.91 491.4,204.24 491.9,206.26 492.4,207.93 492.9,207.4 493.4,206.52 493.9,206.1 494.4,205.17 494.9,204.66 495.4,206.17 495.9,208.68 496.4,206.88 496.9,204.63 497.4,203.74 497.9,203.74 498,203.47" fill="none" stroke="#0b6fc2" stroke-width="0.7" stroke-linejoin="round" stroke-linecap="round" stroke-opacity="0.75"/>
<polygon points="502.2,174.98 502.6,175.5 503,175.95 503.4,176.18 503.8,176.73 504.2,177.07 504.6,177.21 505,177.61 505.4,177.81 505.8,177.89 506.2,178.14 506.6,178.18 507,178.13 507.4,178.24 507.8,178.34 508.2,178.67 508.6,178.5 509,178.71 509.4,178.86 509.8,178.65 510.2,178.93 510.6,178.71 511,179.02 511.4,179.04 511.8,178.96 512.2,178.95 512.6,178.99 513,178.95 513.4,179.19 513.8,179.05 514.2,179.18 514.6,179.02 515,179.12 515.4,179.12 515.8,179.29 516.2,179.08 516.6,179.27 517,179.31 517.4,179.26 517.8,179.17 518.2,179.32 518.6,179.29 519,179.26 519.4,179.38 519.8,179.43 520.2,179.36 520.6,179.28 521,179.3 521.4,179.44 521.8,179.33 522.2,179.28 522.6,179.33 523,179.49 523.4,179.54 523.8,179.28 524.2,179.37 524.6,179.51 525,179.38 525.4,179.44 525.8,179.43 526.2,179.52 526.6,179.44 527,179.53 527.4,179.54 527.8,179.57 528.2,179.46 528.6,179.42 529,179.59 529.4,179.65 529.8,179.6 530.2,179.45 530.6,179.57 531,179.67 531.4,179.43 531.8,179.54 532.2,179.65 532.6,179.45 533,179.52 533.4,179.43 533.8,179.43 534.2,179.43 534.6,179.42 535,179.56 535.4,179.44 535.8,179.53 536.2,179.48 536.6,179.61 537,179.49 537.4,179.65 537.6,179.42 537.6,180.61 537.4,180.49 537,180.45 536.6,180.6 536.2,180.48 535.8,180.53 535.4,180.54 535,180.55 534.6,180.47 534.2,180.38 533.8,180.43 533.4,180.49 533,180.62 532.6,180.43 532.2,180.5 531.8,180.4 531.4,180.51 531,180.38 530.6,180.33 530.2,180.59 529.8,180.35 529.4,180.43 529,180.35 528.6,180.49 528.2,180.46 527.8,180.36 527.4,180.5 527,180.42 526.6,180.35 526.2,180.3 525.8,180.53 525.4,180.42 525,180.38 524.6,180.35 524.2,180.48 523.8,180.28 523.4,180.24 523,180.21 522.6,180.43 522.2,180.22 521.8,180.22 521.4,180.37 521,180.27 520.6,180.18 520.2,180.33 519.8,180.33 519.4,180.24 519,180.18 518.6,180.11 518.2,180.34 517.8,180.12 517.4,180.13 517,180.09 516.6,180.25 516.2,180.1 515.8,180.25 515.4,180.15 515,180.13 514.6,180.05 514.2,180.12 513.8,180.06 513.4,180.09 513,179.97 512.6,179.91 512.2,180.01 511.8,180.01 511.4,179.82 511,179.86 510.6,179.76 510.2,179.68 509.8,179.84 509.4,179.59 509,179.68 508.6,179.48 508.2,179.51 507.8,179.47 507.4,179.31 507,179.22 506.6,179.09 506.2,178.99 505.8,179.03 505.4,178.68 505,178.59 504.6,178.05 504.2,177.87 503.8,177.72 503.4,177.34 503,176.89 502.6,176.35 502.2,175.78" fill="#0b6fc2"/>
</g>
<g>
<rect x="32.5" y="251" width="83" height="65" fill="#fff" stroke="#c6c6c6" stroke-width="0.6"/>
<path d="M32.5 316v-0.9M32.5 251v0.9M41.72 316v-0.9M41.72 251v0.9M50.94 316v-0.9M50.94 251v0.9M60.17 316v-0.9M60.17 251v0.9M69.39 316v-0.9M69.39 251v0.9M78.61 316v-0.9M78.61 251v0.9M87.83 316v-0.9M87.83 251v0.9M97.06 316v-0.9M97.06 251v0.9M106.28 316v-0.9M106.28 251v0.9M115.5 316v-0.9M115.5 251v0.9M32.5 251h0.9M115.5 251h-0.9M32.5 272.67h0.9M115.5 272.67h-0.9M32.5 294.33h0.9M115.5 294.33h-0.9M32.5 316h0.9M115.5 316h-0.9" stroke="#bdbdbd" stroke-width="0.4" fill="none"/>
<text x="31.8" y="253.35" textLength="6.84" lengthAdjust="spacingAndGlyphs" class="k e">7.5</text>
<text x="31.8" y="275.02" textLength="6.84" lengthAdjust="spacingAndGlyphs" class="k e">7.3</text>
<text x="31.8" y="296.68" textLength="6.84" lengthAdjust="spacingAndGlyphs" class="k e">7.1</text>
<text x="31.8" y="317.55" textLength="6.84" lengthAdjust="spacingAndGlyphs" class="k e">6.9</text>
<text x="32.6" y="321.3" textLength="2.74" lengthAdjust="spacingAndGlyphs" class="k m">0</text>
<text x="41.82" y="321.3" textLength="2.74" lengthAdjust="spacingAndGlyphs" class="k m">1</text>
<text x="51.04" y="321.3" textLength="2.74" lengthAdjust="spacingAndGlyphs" class="k m">2</text>
<text x="60.27" y="321.3" textLength="2.74" lengthAdjust="spacingAndGlyphs" class="k m">3</text>
<text x="69.49" y="321.3" textLength="2.74" lengthAdjust="spacingAndGlyphs" class="k m">4</text>
<text x="78.71" y="321.3" textLength="2.74" lengthAdjust="spacingAndGlyphs" class="k m">5</text>
<text x="87.93" y="321.3" textLength="2.74" lengthAdjust="spacingAndGlyphs" class="k m">6</text>
<text x="97.16" y="321.3" textLength="2.74" lengthAdjust="spacingAndGlyphs" class="k m">7</text>
<text x="106.38" y="321.3" textLength="2.74" lengthAdjust="spacingAndGlyphs" class="k m">8</text>
<text x="115.6" y="321.3" textLength="2.74" lengthAdjust="spacingAndGlyphs" class="k m">9</text>
<text x="75.6" y="326.9" textLength="18.5" lengthAdjust="spacingAndGlyphs" class="t m">Time [s]</text>
<polyline points="32.6,262.6 43,262.6 43.4,264.6 45.2,306.74 46,311.14 48.2,309.08 50.9,308.52 53.64,306.32 56.36,304.12 58,303.54 60.18,305.2 61.8,306.32 64.54,304.86 67.26,303.32 70,304.66 72.72,303.54 74.9,303 77.08,303.22 78.72,302.44 80.9,303 83.08,303.88 85.26,302.44 86.9,301.34 89.08,302.22 91.26,302.22 93.44,301.68 95.9,301.34 97.1,279 98.1,263 98.9,257.4 99.7,256.4 100.7,256.6 102.5,258 105.5,259 108.5,259.8" fill="none" stroke="#0b6fc2" stroke-opacity="0.6" stroke-width="0.65" stroke-linejoin="round"/>
<polygon points="32.6,260.8 33,260.97 33.4,260.8 33.8,260.81 34.2,261.06 34.6,261.01 35,260.82 35.4,261.02 35.8,261.03 36.2,260.94 36.6,261.18 37,261.08 37.4,260.7 37.8,261.09 38.2,260.79 38.6,261.22 39,261.06 39.4,260.95 39.8,261.05 40.2,260.72 40.6,260.71 41,261.06 41.4,261.15 41.8,260.73 42.2,260.8 42.6,260.95 43,261.19 43,264.13 42.6,263.98 42.2,264.18 41.8,264.41 41.4,264.03 41,264.04 40.6,264.06 40.2,264.42 39.8,264.05 39.4,264.1 39,264.32 38.6,264.39 38.2,264.08 37.8,264.47 37.4,264.33 37,264.1 36.6,264.16 36.2,264.2 35.8,264.3 35.4,264.2 35,264.18 34.6,264.13 34.2,264.16 33.8,264.23 33.4,264.34 33,264.34 32.6,263.99" fill="#0b6fc2"/>
<polygon points="46,310.07 46.4,309.53 46.8,309.1 47.2,309.08 47.6,308.56 48,307.73 48.4,307.97 48.8,308.25 49.2,308.43 49.6,308.02 50,308.06 50.4,307.49 50.8,307.9 51.2,307.24 51.6,306.61 52,306.37 52.4,305.92 52.8,305.71 53.2,305.22 53.6,304.82 54,304.5 54.4,304.28 54.8,304.01 55.2,303.79 55.6,303.87 56,303.64 56.4,303.05 56.8,302.85 57.2,302.75 57.6,302.94 58,302.32 58.4,303.14 58.8,303.4 59.2,303.85 59.6,303.85 60,303.83 60.4,303.89 60.8,304.38 61.2,304.42 61.6,305.09 62,305.07 62.4,304.98 62.8,304.37 63.2,304.76 63.6,304.52 64,303.8 64.4,303.8 64.8,303.62 65.2,303.3 65.6,303.12 66,302.95 66.4,302.84 66.8,302.51 67.2,302.27 67.6,302.41 68,302.32 68.4,302.94 68.8,303.4 69.2,303.26 69.6,303.44 70,303.93 70.4,303.61 70.8,303.67 71.2,303.49 71.6,302.87 72,302.28 72.4,302.57 72.8,302.37 73.2,302.26 73.6,302.82 74,302.22 74.4,302.23 74.8,301.82 75.2,301.95 75.6,302.11 76,302.2 76.4,302.63 76.8,302.21 77.2,302.12 77.6,301.97 78,301.79 78.4,301.58 78.8,301.65 79.2,301.82 79.6,301.5 80,302.04 80.4,301.65 80.8,302.15 81.2,301.86 81.6,302.33 82,302.67 82.4,302.84 82.8,303.08 83.2,302.91 83.6,302.41 84,302.23 84.4,301.46 84.8,301.26 85.2,301.01 85.6,300.66 86,300.94 86.4,300.96 86.8,300.76 87.2,300.16 87.6,300.48 88,300.24 88.4,300.8 88.8,300.88 89.2,300.78 89.6,300.61 90,300.86 90.4,301.06 90.8,301.38 91.2,301.6 91.6,300.9 92,300.64 92.4,300.87 92.8,301.16 93.2,300.76 93.6,301.01 94,300.77 94.4,300.95 94.8,301.1 95.2,300.57 95.6,300.88 95.9,300.13 95.9,302.39 95.6,302.36 95.2,302.55 94.8,302.92 94.4,302.77 94,303.2 93.6,302.84 93.2,302.69 92.8,303.06 92.4,302.7 92,303.01 91.6,303.04 91.2,303.61 90.8,303.05 90.4,302.81 90,302.9 89.6,302.67 89.2,302.66 88.8,302.7 88.4,302.45 88,302.24 87.6,302.16 87.2,302.16 86.8,302.3 86.4,302.7 86,303.05 85.6,302.61 85.2,302.78 84.8,303.09 84.4,303.39 84,303.85 83.6,304.48 83.2,304.83 82.8,305.12 82.4,305.16 82,304.45 81.6,304.08 81.2,303.95 80.8,303.98 80.4,303.98 80,304.14 79.6,303.86 79.2,303.62 78.8,303.48 78.4,303.35 78,303.8 77.6,304.09 77.2,304.49 76.8,304.43 76.4,304.19 76,304.36 75.6,304.54 75.2,304.27 74.8,304.1 74.4,304.33 74,304.58 73.6,304.19 73.2,304.49 72.8,304.26 72.4,304.35 72,304.79 71.6,304.82 71.2,305.41 70.8,305.1 70.4,305.88 70,305.96 69.6,305.94 69.2,305.45 68.8,304.91 68.4,304.97 68,304.58 67.6,304.31 67.2,304.31 66.8,304.21 66.4,305 66,304.81 65.6,304.78 65.2,305.01 64.8,305.09 64.4,305.67 64,305.98 63.6,306.23 63.2,306.31 62.8,306.84 62.4,306.84 62,306.78 61.6,306.74 61.2,306.76 60.8,306.14 60.4,306.46 60,306.3 59.6,305.79 59.2,306.08 58.8,305.66 58.4,305.25 58,304.53 57.6,304.59 57.2,304.43 56.8,304.76 56.4,305.18 56,305.62 55.6,305.8 55.2,306.1 54.8,306.07 54.4,306.04 54,306.95 53.6,306.93 53.2,307.62 52.8,308.01 52.4,308.02 52,308.77 51.6,309.05 51.2,309.19 50.8,309.7 50.4,309.98 50,309.75 49.6,310.08 49.2,309.81 48.8,309.69 48.4,309.58 48,309.74 47.6,310.59 47.2,310.78 46.8,311.05 46.4,311.67 46,311.94" fill="#0b6fc2"/>
<polygon points="99.7,255.79 100.1,255.99 100.5,255.93 100.9,256.15 101.3,256.48 101.7,256.68 102.1,256.95 102.5,257.4 102.9,257.57 103.3,257.56 103.7,257.7 104.1,257.91 104.5,258.01 104.9,258.22 105.3,258.24 105.7,258.41 106.1,258.43 106.5,258.7 106.9,258.87 107.3,258.75 107.7,258.94 108.1,258.98 108.5,259.11 108.5,260.41 108.1,260.4 107.7,260.21 107.3,260.15 106.9,259.95 106.5,259.97 106.1,259.79 105.7,259.73 105.3,259.42 104.9,259.47 104.5,259.31 104.1,259.29 103.7,259.06 103.3,258.84 102.9,258.71 102.5,258.55 102.1,258.2 101.7,257.91 101.3,257.66 100.9,257.41 100.5,257.29 100.1,257.06 99.7,257.1" fill="#0b6fc2"/>
</g>
<g>
<rect x="140" y="251" width="83" height="65" fill="#fff" stroke="#c6c6c6" stroke-width="0.6"/>
<path d="M140 316v-0.9M140 251v0.9M149.22 316v-0.9M149.22 251v0.9M158.44 316v-0.9M158.44 251v0.9M167.67 316v-0.9M167.67 251v0.9M176.89 316v-0.9M176.89 251v0.9M186.11 316v-0.9M186.11 251v0.9M195.33 316v-0.9M195.33 251v0.9M204.56 316v-0.9M204.56 251v0.9M213.78 316v-0.9M213.78 251v0.9M223 316v-0.9M223 251v0.9M140 251h0.9M223 251h-0.9M140 272.67h0.9M223 272.67h-0.9M140 294.33h0.9M223 294.33h-0.9M140 316h0.9M223 316h-0.9" stroke="#bdbdbd" stroke-width="0.4" fill="none"/>
<text x="139.3" y="253.35" textLength="6.84" lengthAdjust="spacingAndGlyphs" class="k e">7.5</text>
<text x="139.3" y="275.02" textLength="6.84" lengthAdjust="spacingAndGlyphs" class="k e">7.3</text>
<text x="139.3" y="296.68" textLength="6.84" lengthAdjust="spacingAndGlyphs" class="k e">7.1</text>
<text x="139.3" y="317.55" textLength="6.84" lengthAdjust="spacingAndGlyphs" class="k e">6.9</text>
<text x="140.1" y="321.3" textLength="2.74" lengthAdjust="spacingAndGlyphs" class="k m">0</text>
<text x="149.32" y="321.3" textLength="2.74" lengthAdjust="spacingAndGlyphs" class="k m">1</text>
<text x="158.54" y="321.3" textLength="2.74" lengthAdjust="spacingAndGlyphs" class="k m">2</text>
<text x="167.77" y="321.3" textLength="2.74" lengthAdjust="spacingAndGlyphs" class="k m">3</text>
<text x="176.99" y="321.3" textLength="2.74" lengthAdjust="spacingAndGlyphs" class="k m">4</text>
<text x="186.21" y="321.3" textLength="2.74" lengthAdjust="spacingAndGlyphs" class="k m">5</text>
<text x="195.43" y="321.3" textLength="2.74" lengthAdjust="spacingAndGlyphs" class="k m">6</text>
<text x="204.66" y="321.3" textLength="2.74" lengthAdjust="spacingAndGlyphs" class="k m">7</text>
<text x="213.88" y="321.3" textLength="2.74" lengthAdjust="spacingAndGlyphs" class="k m">8</text>
<text x="223.1" y="321.3" textLength="2.74" lengthAdjust="spacingAndGlyphs" class="k m">9</text>
<text x="183.1" y="326.9" textLength="18.5" lengthAdjust="spacingAndGlyphs" class="t m">Time [s]</text>
<polyline points="140,265 150,265 150.4,267 152.2,308.2 153,312.6 155,310 157,307.6 159,306 161,305 163,306.6 165,304.6 167,305 169,306.6 172,305.6 175,304 177,305.4 180,304.2 182,304.6 185,302.6 187.4,302.2 190,303.4 193,303.4 196,303.4 198,301.8 200,303 203,302.6 203.8,279 204.8,261 205.6,257.8 206.4,256.8 208,258 211,259 214,259.8 215.4,260.2" fill="none" stroke="#0b6fc2" stroke-opacity="0.6" stroke-width="0.65" stroke-linejoin="round"/>
<polygon points="140,263.78 140.4,263.76 140.8,263.94 141.2,263.96 141.6,263.85 142,263.95 142.4,263.71 142.8,263.73 143.2,263.96 143.6,263.86 144,264.16 144.4,263.74 144.8,263.89 145.2,264.21 145.6,264.21 146,263.77 146.4,263.81 146.8,263.89 147.2,264.01 147.6,264.09 148,263.96 148.4,263.74 148.8,263.89 149.2,264.2 149.6,264.11 150,264.18 150,266.21 149.6,265.98 149.2,266.25 148.8,266.19 148.4,266 148,266.03 147.6,266.3 147.2,265.82 146.8,265.83 146.4,266.2 146,265.92 145.6,265.93 145.2,266.21 144.8,265.98 144.4,266.23 144,266.16 143.6,265.96 143.2,265.99 142.8,265.96 142.4,265.91 142,265.81 141.6,265.95 141.2,266.01 140.8,266.27 140.4,266.23 140,266.24" fill="#0b6fc2"/>
<polygon points="153,311.26 153.4,311.03 153.8,310.9 154.2,310.71 154.6,309.67 155,309.48 155.4,308.86 155.8,308.2 156.2,307.84 156.6,307.13 157,306.84 157.4,306.31 157.8,306.16 158.2,305.58 158.6,305.43 159,304.83 159.4,305.11 159.8,304.96 160.2,304.31 160.6,304.38 161,303.85 161.4,304.56 161.8,305.32 162.2,305.37 162.6,305.6 163,306.41 163.4,305.61 163.8,304.99 164.2,304.28 164.6,304 165,304.38 165.4,304.24 165.8,303.98 166.2,304.26 166.6,304.29 167,304.35 167.4,305.06 167.8,305.42 168.2,305.21 168.6,305.85 169,306.04 169.4,305.73 169.8,305.53 170.2,305.41 170.6,305.94 171,305.22 171.4,305.29 171.8,304.67 172.2,304.48 172.6,304.67 173,304.59 173.4,304 173.8,303.84 174.2,303.39 174.6,303.32 175,303.15 175.4,303.18 175.8,303.61 176.2,304.28 176.6,304.71 177,304.67 177.4,304.79 177.8,304.94 178.2,304.19 178.6,303.97 179,304.24 179.4,303.4 179.8,303.79 180.2,303.53 180.6,303.5 181,303.85 181.4,304.13 181.8,304.15 182.2,303.88 182.6,303.33 183,302.99 183.4,302.52 183.8,302.24 184.2,302.43 184.6,302.48 185,302.01 185.4,301.9 185.8,302.22 186.2,301.81 186.6,302.01 187,302.12 187.4,301.75 187.8,301.62 188.2,302.03 188.6,302.01 189,302.17 189.4,302.34 189.8,302.75 190.2,302.32 190.6,302.92 191,302.85 191.4,303.35 191.8,303.14 192.2,302.71 192.6,302.67 193,302.37 193.4,302.49 193.8,302.43 194.2,302.88 194.6,302.88 195,302.64 195.4,302.89 195.8,302.42 196.2,302.51 196.6,301.74 197,301.71 197.4,301.14 197.8,301.65 198.2,301.79 198.6,301.48 199,301.37 199.4,301.58 199.8,302.09 200.2,302.04 200.6,302.26 201,302.02 201.4,301.88 201.8,302.01 202.2,302.22 202.6,302.16 203,301.89 203,303.63 202.6,303.71 202.2,303.27 201.8,303.26 201.4,302.97 201,303.15 200.6,303.72 200.2,303.31 199.8,303.76 199.4,303.15 199,303.21 198.6,302.94 198.2,303.2 197.8,302.74 197.4,302.61 197,302.58 196.6,303.45 196.2,303.74 195.8,304.06 195.4,303.91 195,304.49 194.6,304.08 194.2,304.28 193.8,303.74 193.4,303.63 193,304.13 192.6,304.32 192.2,304.23 191.8,304.54 191.4,304.34 191,304.12 190.6,303.96 190.2,304.22 189.8,303.99 189.4,303.7 189,303.62 188.6,303.72 188.2,303.34 187.8,303.22 187.4,303.44 187,303.11 186.6,303.31 186.2,303.31 185.8,303.56 185.4,303.52 185,303.89 184.6,304.01 184.2,303.76 183.8,303.68 183.4,304.03 183,304.72 182.6,305.36 182.2,305.44 181.8,305.38 181.4,305.6 181,305.05 180.6,305.18 180.2,304.97 179.8,305.16 179.4,304.82 179,305.58 178.6,305.22 178.2,305.59 177.8,306.11 177.4,306.54 177,306.11 176.6,306.03 176.2,305.12 175.8,304.86 175.4,304.79 175,304.39 174.6,304.53 174.2,304.96 173.8,305.22 173.4,305.47 173,306.06 172.6,306.06 172.2,306.05 171.8,306.06 171.4,306.09 171,306.52 170.6,307.25 170.2,307.35 169.8,306.92 169.4,307.49 169,307.47 168.6,307.46 168.2,307.04 167.8,306.32 167.4,305.91 167,305.7 166.6,306.01 166.2,305.45 165.8,305.6 165.4,305.58 165,305.48 164.6,306.05 164.2,306 163.8,306.52 163.4,306.94 163,307.9 162.6,307.19 162.2,307.15 161.8,306.22 161.4,306.1 161,305.2 160.6,305.84 160.2,305.85 159.8,306.12 159.4,306.34 159,306.47 158.6,306.81 158.2,306.95 157.8,306.97 157.4,307.31 157,308.31 156.6,308.68 156.2,309.22 155.8,309.92 155.4,310.33 155,310.38 154.6,311.59 154.2,311.94 153.8,312.5 153.4,312.59 153,313.04" fill="#0b6fc2"/>
<polygon points="206.4,255.96 206.8,256.4 207.2,256.7 207.6,256.94 208,257.28 208.4,257.44 208.8,257.58 209.2,257.69 209.6,257.82 210,258 210.4,258.08 210.8,258.03 211.2,258.18 211.6,258.35 212,258.36 212.4,258.47 212.8,258.82 213.2,258.94 213.6,258.97 214,259.02 214.4,259 214.8,259.39 215.2,259.31 215.4,259.34 215.4,261.08 215.2,260.83 214.8,260.93 214.4,260.59 214,260.68 213.6,260.43 213.2,260.36 212.8,260.23 212.4,260.29 212,259.96 211.6,259.91 211.2,259.78 210.8,259.69 210.4,259.44 210,259.3 209.6,259.35 209.2,259.07 208.8,259.12 208.4,258.9 208,258.82 207.6,258.36 207.2,258.28 206.8,257.95 206.4,257.51" fill="#0b6fc2"/>
</g>
<g>
<rect x="247" y="251" width="83" height="65" fill="#fff" stroke="#c6c6c6" stroke-width="0.6"/>
<path d="M247 316v-0.9M247 251v0.9M256.22 316v-0.9M256.22 251v0.9M265.44 316v-0.9M265.44 251v0.9M274.67 316v-0.9M274.67 251v0.9M283.89 316v-0.9M283.89 251v0.9M293.11 316v-0.9M293.11 251v0.9M302.33 316v-0.9M302.33 251v0.9M311.56 316v-0.9M311.56 251v0.9M320.78 316v-0.9M320.78 251v0.9M330 316v-0.9M330 251v0.9M247 251h0.9M330 251h-0.9M247 269.57h0.9M330 269.57h-0.9M247 288.14h0.9M330 288.14h-0.9M247 306.71h0.9M330 306.71h-0.9" stroke="#bdbdbd" stroke-width="0.4" fill="none"/>
<text x="246.3" y="253.35" textLength="6.84" lengthAdjust="spacingAndGlyphs" class="k e">7.5</text>
<text x="246.3" y="271.92" textLength="6.84" lengthAdjust="spacingAndGlyphs" class="k e">7.3</text>
<text x="246.3" y="290.49" textLength="6.84" lengthAdjust="spacingAndGlyphs" class="k e">7.1</text>
<text x="246.3" y="309.06" textLength="6.84" lengthAdjust="spacingAndGlyphs" class="k e">6.9</text>
<text x="247.1" y="321.3" textLength="2.74" lengthAdjust="spacingAndGlyphs" class="k m">0</text>
<text x="256.32" y="321.3" textLength="2.74" lengthAdjust="spacingAndGlyphs" class="k m">1</text>
<text x="265.54" y="321.3" textLength="2.74" lengthAdjust="spacingAndGlyphs" class="k m">2</text>
<text x="274.77" y="321.3" textLength="2.74" lengthAdjust="spacingAndGlyphs" class="k m">3</text>
<text x="283.99" y="321.3" textLength="2.74" lengthAdjust="spacingAndGlyphs" class="k m">4</text>
<text x="293.21" y="321.3" textLength="2.74" lengthAdjust="spacingAndGlyphs" class="k m">5</text>
<text x="302.43" y="321.3" textLength="2.74" lengthAdjust="spacingAndGlyphs" class="k m">6</text>
<text x="311.66" y="321.3" textLength="2.74" lengthAdjust="spacingAndGlyphs" class="k m">7</text>
<text x="320.88" y="321.3" textLength="2.74" lengthAdjust="spacingAndGlyphs" class="k m">8</text>
<text x="330.1" y="321.3" textLength="2.74" lengthAdjust="spacingAndGlyphs" class="k m">9</text>
<text x="290.1" y="326.9" textLength="18.5" lengthAdjust="spacingAndGlyphs" class="t m">Time [s]</text>
<polyline points="247,261.6 257.4,261.6 257.8,263.6 259.2,299 260,303.4 261,302.6 263,301 265,300 267,299 268.6,296.4 270.6,296.4 272.2,297.4 273.4,302 275,300 276.4,303.4 277.4,309 278.6,303.4 280,299.6 281,298.4 282,295 282.6,299.6 283.6,303.4 285,300 286.6,297.4 288,296 289.4,297.6 291,301.6 292.6,305.4 294,300 295.4,295.4 296.4,294 297.4,300 298.6,304.6 300,301 301.4,297.4 302.6,298.6 304,295.4 305.4,294.6 306.6,299 308,295.4 309.4,293.4 310.6,292.4 311.2,277 312,261 312.8,255 313.6,253.8 315,254.6 318,255.6 321,256.4 322.6,256.6" fill="none" stroke="#0b6fc2" stroke-opacity="0.6" stroke-width="0.65" stroke-linejoin="round"/>
<polygon points="247,260.29 247.4,260.2 247.8,260.4 248.2,260.09 248.6,260.4 249,260.1 249.4,260.17 249.8,260.05 250.2,260 250.6,260.1 251,260.43 251.4,260.09 251.8,260.47 252.2,260.09 252.6,260.03 253,260.45 253.4,260.5 253.8,260.09 254.2,260.34 254.6,260.16 255,260.09 255.4,260.02 255.8,260.25 256.2,260.08 256.6,260.04 257,260.11 257.4,260.32 257.4,262.73 257,262.9 256.6,263.05 256.2,262.74 255.8,262.76 255.4,263.07 255,263.14 254.6,262.98 254.2,262.71 253.8,263.18 253.4,262.76 253,263.02 252.6,262.85 252.2,262.76 251.8,262.96 251.4,263.06 251,262.93 250.6,263.07 250.2,262.92 249.8,263.17 249.4,262.74 249,262.7 248.6,262.94 248.2,262.88 247.8,263.16 247.4,262.9 247,263.16" fill="#0b6fc2"/>
<polyline points="260,302.98 260.25,303.85 260.5,302.63 260.75,303.29 261,301.83 261.25,302.87 261.5,301.47 261.75,302.37 262,301.35 262.25,301.98 262.5,300.72 262.75,301.81 263,300.3 263.25,301.59 263.5,300.07 263.75,301.03 264,299.94 264.25,300.75 264.5,299.54 264.75,300.65 265,299.44 265.25,300.63 265.5,298.95 265.75,300.25 266,298.97 266.25,300.12 266.5,298.52 266.75,299.58 267,298.44 267.25,299.37 267.5,297.39 267.75,298.54 268,296.8 268.25,297.4 268.5,295.81 268.75,296.85 269,295.77 269.25,296.93 269.5,295.67 269.75,296.92 270,295.87 270.25,297.13 270.5,295.72 270.75,297.29 271,296.24 271.25,297.22 271.5,296.3 271.75,297.7 272,296.52 272.25,298.16 272.5,298.17 272.75,300.08 273,300 273.25,302.14 273.5,301.16 273.75,302.3 274,300.84 274.25,301.55 274.5,300.18 274.75,301.1 275,299.57 275.25,301.25 275.5,300.54 275.75,302.27 276,301.81 276.25,303.45 276.5,303.58 276.75,305.84 277,306.37 277.25,308.71 277.5,307.87 277.75,308.13 278,305.73 278.25,305.6 278.5,303.2 278.75,303.49 279,301.82 279.25,302.16 279.5,300.23 279.75,300.8 280,298.9 280.25,299.72 280.5,298.5 280.75,299.19 281,297.94 281.25,297.98 281.5,296.17 281.75,296.57 282,294.35 282.25,297.71 282.5,298.33 282.75,300.66 283,300.65 283.25,302.65 283.5,302.61 283.75,303.75 284,301.88 284.25,302.2 284.5,300.63 284.75,301.16 285,299.55 285.25,300.09 285.5,298.53 285.75,299.58 286,297.75 286.25,298.44 286.5,297.19 286.75,297.75 287,296.53 287.25,297.3 287.5,295.94 287.75,296.73 288,295.57 288.25,297.05 288.5,295.79 288.75,297.54 289,296.37 289.25,298.04 289.5,297.16 289.75,299.03 290,298.45 290.25,300.46 290.5,299.68 290.75,301.69 291,300.97 291.25,302.71 291.5,302.07 291.75,304.14 292,303.51 292.25,305 292.5,304.8 292.75,305.29 293,303.42 293.25,303.34 293.5,301.5 293.75,301.46 294,299.57 294.25,299.96 294.5,297.97 294.75,297.9 295,295.95 295.25,296.42 295.5,294.57 295.75,295.41 296,294.19 296.25,294.59 296.5,293.83 296.75,296.48 297,297.04 297.25,299.58 297.5,299.74 297.75,301.87 298,301.58 298.25,303.71 298.5,303.62 298.75,305.01 299,302.98 299.25,303.71 299.5,301.9 299.75,302.39 300,300.47 300.25,301.16 300.5,299.05 300.75,299.54 301,297.73 301.25,298.22 301.5,296.91 301.75,298.44 302,297.57 302.25,298.64 302.5,297.77 302.75,298.7 303,296.99 303.25,297.68 303.5,296.1 303.75,296.71 304,294.88 304.25,295.73 304.5,294.36 304.75,295.77 305,294.32 305.25,295.47 305.5,294.56 305.75,296.59 306,296.18 306.25,298.18 306.5,298.1 306.75,299.11 307,297.31 307.25,297.87 307.5,296.14 307.75,296.7 308,294.89 308.25,295.44 308.5,294.11 308.75,295.07 309,293.51 309.25,294.09 309.5,292.55 309.75,293.54 310,292.12 310.25,293.19 310.5,292.03 310.6,293.08" fill="none" stroke="#0b6fc2" stroke-width="0.65" stroke-linejoin="round" stroke-linecap="round" stroke-opacity="0.95"/>
<polygon points="313.6,253.01 314,253.36 314.4,253.65 314.8,253.92 315.2,254.13 315.6,254.07 316,254.19 316.4,254.45 316.8,254.53 317.2,254.58 317.6,254.74 318,254.87 318.4,254.91 318.8,255.21 319.2,255.11 319.6,255.32 320,255.51 320.4,255.51 320.8,255.73 321.2,255.78 321.6,255.71 322,255.76 322.4,255.87 322.6,255.84 322.6,257.28 322.4,257.17 322,257.16 321.6,257.11 321.2,257.2 320.8,256.92 320.4,256.9 320,256.76 319.6,256.57 319.2,256.64 318.8,256.6 318.4,256.43 318,256.25 317.6,256.14 317.2,255.87 316.8,255.95 316.4,255.75 316,255.49 315.6,255.46 315.2,255.21 314.8,255.29 314.4,254.81 314,254.67 313.6,254.58" fill="#0b6fc2"/>
</g>
<g>
<rect x="354.4" y="251" width="83" height="65" fill="#fff" stroke="#c6c6c6" stroke-width="0.6"/>
<path d="M354.4 316v-0.9M354.4 251v0.9M363.62 316v-0.9M363.62 251v0.9M372.84 316v-0.9M372.84 251v0.9M382.07 316v-0.9M382.07 251v0.9M391.29 316v-0.9M391.29 251v0.9M400.51 316v-0.9M400.51 251v0.9M409.73 316v-0.9M409.73 251v0.9M418.96 316v-0.9M418.96 251v0.9M428.18 316v-0.9M428.18 251v0.9M437.4 316v-0.9M437.4 251v0.9M354.4 251h0.9M437.4 251h-0.9M354.4 265.44h0.9M437.4 265.44h-0.9M354.4 279.89h0.9M437.4 279.89h-0.9M354.4 294.33h0.9M437.4 294.33h-0.9M354.4 308.78h0.9M437.4 308.78h-0.9" stroke="#bdbdbd" stroke-width="0.4" fill="none"/>
<text x="353.7" y="253.35" textLength="6.84" lengthAdjust="spacingAndGlyphs" class="k e">7.6</text>
<text x="353.7" y="267.79" textLength="6.84" lengthAdjust="spacingAndGlyphs" class="k e">7.4</text>
<text x="353.7" y="282.24" textLength="6.84" lengthAdjust="spacingAndGlyphs" class="k e">7.2</text>
<text x="353.7" y="296.68" textLength="2.74" lengthAdjust="spacingAndGlyphs" class="k e">7</text>
<text x="353.7" y="311.13" textLength="6.84" lengthAdjust="spacingAndGlyphs" class="k e">6.8</text>
<text x="354.5" y="321.3" textLength="2.74" lengthAdjust="spacingAndGlyphs" class="k m">0</text>
<text x="363.72" y="321.3" textLength="2.74" lengthAdjust="spacingAndGlyphs" class="k m">1</text>
<text x="372.94" y="321.3" textLength="2.74" lengthAdjust="spacingAndGlyphs" class="k m">2</text>
<text x="382.17" y="321.3" textLength="2.74" lengthAdjust="spacingAndGlyphs" class="k m">3</text>
<text x="391.39" y="321.3" textLength="2.74" lengthAdjust="spacingAndGlyphs" class="k m">4</text>
<text x="400.61" y="321.3" textLength="2.74" lengthAdjust="spacingAndGlyphs" class="k m">5</text>
<text x="409.83" y="321.3" textLength="2.74" lengthAdjust="spacingAndGlyphs" class="k m">6</text>
<text x="419.06" y="321.3" textLength="2.74" lengthAdjust="spacingAndGlyphs" class="k m">7</text>
<text x="428.28" y="321.3" textLength="2.74" lengthAdjust="spacingAndGlyphs" class="k m">8</text>
<text x="437.5" y="321.3" textLength="2.74" lengthAdjust="spacingAndGlyphs" class="k m">9</text>
<text x="397.5" y="326.9" textLength="18.5" lengthAdjust="spacingAndGlyphs" class="t m">Time [s]</text>
<polyline points="354.4,265.6 364.6,265.6 365,267.6 366.2,292.2 367,296.6 368,298 369.6,297.4 371,301 372.4,299 373.6,297.4 375,299 376.4,296.6 378,298 379,296 380,300 381.4,304 382.6,299 384,295 385.2,296.6 386.4,295.4 387.6,301 389,302.6 390,300.6 391,304 392,305.4 393,298 394,300.6 395.4,303.4 396.6,304.6 398,300.6 399.4,298 400.6,294 402,298 403.2,302 404.4,299 405.6,295.4 406.8,297 408,293.4 409.2,296 410.4,299 411.6,297 412.8,301.4 414,306 414.8,309.6 415.6,302 416.6,297.4 417.6,293.4 418.4,291.6 418.8,279 419.6,269 420.2,261 421,258.8 422,259.4 424,260.4 427,261.2 429.6,261.6" fill="none" stroke="#0b6fc2" stroke-opacity="0.6" stroke-width="0.65" stroke-linejoin="round"/>
<polygon points="354.4,264.09 354.8,264.46 355.2,264.26 355.6,264.36 356,264.49 356.4,264.31 356.8,264.18 357.2,264.2 357.6,263.99 358,264.15 358.4,264.03 358.8,264.14 359.2,264.16 359.6,264.05 360,264.06 360.4,264.12 360.8,264.35 361.2,264.37 361.6,264.06 362,264.51 362.4,264.31 362.8,264.08 363.2,264.37 363.6,264.26 364,264.34 364.4,264.18 364.6,264.08 364.6,266.93 364.4,266.71 364,266.7 363.6,266.99 363.2,266.92 362.8,267.18 362.4,266.93 362,266.86 361.6,266.98 361.2,266.81 360.8,267.09 360.4,267.17 360,266.72 359.6,267.13 359.2,266.82 358.8,267.04 358.4,267.12 358,266.93 357.6,267.14 357.2,266.77 356.8,266.95 356.4,266.82 356,267.2 355.6,266.9 355.2,267.13 354.8,266.9 354.4,266.71" fill="#0b6fc2"/>
<polyline points="367,296.33 367.25,297.34 367.5,296.99 367.75,298.03 368,297.69 368.25,298.29 368.5,297.56 368.75,297.9 369,297.28 369.25,297.86 369.5,297.21 369.75,298.01 370,298.14 370.25,299.45 370.5,299.39 370.75,300.63 371,300.69 371.25,300.9 371.5,300.02 371.75,300.15 372,299.24 372.25,299.4 372.5,298.57 372.75,298.73 373,297.99 373.25,298.21 373.5,297.16 373.75,297.86 374,297.47 374.25,298.48 374.5,298.13 374.75,299.03 375,298.82 375.25,298.77 375.5,297.8 375.75,297.98 376,296.89 376.25,297.09 376.5,296.45 376.75,297.13 377,296.74 377.25,297.64 377.5,297.33 377.75,297.98 378,297.69 378.25,297.68 378.5,296.63 378.75,296.71 379,295.65 379.25,297.37 379.5,297.76 379.75,299.31 380,299.67 380.25,300.99 380.5,301.16 380.75,302.52 381,302.62 381.25,303.88 381.5,303.4 381.75,302.85 382,301.11 382.25,300.73 382.5,299.07 382.75,298.82 383,297.59 383.25,297.41 383.5,296.05 383.75,295.97 384,294.81 384.25,295.63 384.5,295.36 384.75,296.31 385,296.05 385.25,296.8 385.5,295.96 385.75,296.28 386,295.56 386.25,295.77 386.5,295.67 386.75,297.26 387,297.87 387.25,299.63 387.5,300.25 387.75,301.4 388,301.22 388.25,302.07 388.5,301.64 388.75,302.53 389,302.27 389.25,302.49 389.5,301.3 389.75,301.48 390,300.38 390.25,301.8 390.5,302.1 390.75,303.38 391,303.8 391.25,304.53 391.5,304.35 391.75,305.31 392,305.14 392.25,303.89 392.5,301.46 392.75,300.22 393,297.78 393.25,299.04 393.5,298.93 393.75,300.24 394,300.21 394.25,301.47 394.5,301.21 394.75,302.35 395,302.33 395.25,303.35 395.5,303.22 395.75,304.05 396,303.63 396.25,304.5 396.5,304.2 396.75,304.41 397,303.18 397.25,302.93 397.5,301.73 397.75,301.63 398,300.29 398.25,300.51 398.5,299.38 398.75,299.45 399,298.35 399.25,298.55 399.5,297.44 399.75,297.13 400,295.67 400.25,295.41 400.5,294.1 400.75,294.63 401,294.84 401.25,296.12 401.5,296.22 401.75,297.5 402,297.69 402.25,299.05 402.5,299.44 402.75,300.7 403,301.01 403.25,302.22 403.5,300.97 403.75,300.99 404,299.64 404.25,299.75 404.5,298.38 404.75,298.23 405,296.93 405.25,296.81 405.5,295.46 405.75,295.83 406,295.53 406.25,296.65 406.5,296.28 406.75,297.3 407,296.21 407.25,296 407.5,294.59 407.75,294.39 408,293.16 408.25,294.27 408.5,294.1 408.75,295.37 409,295.38 409.25,296.43 409.5,296.5 409.75,297.6 410,297.81 410.25,298.93 410.5,298.59 410.75,298.67 411,297.71 411.25,297.96 411.5,296.93 411.75,297.86 412,298.14 412.25,299.73 412.5,299.93 412.75,301.45 413,301.8 413.25,303.32 413.5,303.8 413.75,305.38 414,305.62 414.25,307.38 414.5,307.92 414.75,309.71 415,307.51 415.25,305.67 415.5,302.59 415.75,301.52 416,299.91 416.25,299.29 416.5,297.47 416.75,297.19 417,295.58 417.25,295.07 417.5,293.59 417.75,293.25 418,292.27 418.25,292.32 418.4,291.22" fill="none" stroke="#0b6fc2" stroke-width="0.6" stroke-linejoin="round" stroke-linecap="round" stroke-opacity="0.8"/>
<polygon points="421,258.31 421.4,258.43 421.8,258.67 422.2,258.94 422.6,259.03 423,259.44 423.4,259.59 423.8,259.84 424.2,259.76 424.6,259.9 425,260.11 425.4,260.32 425.8,260.2 426.2,260.33 426.6,260.41 427,260.5 427.4,260.64 427.8,260.75 428.2,260.72 428.6,260.98 429,260.84 429.4,261.05 429.6,261.04 429.6,262.08 429.4,262.03 429,262.1 428.6,261.89 428.2,261.95 427.8,261.99 427.4,261.87 427,261.68 426.6,261.77 426.2,261.44 425.8,261.45 425.4,261.41 425,261.29 424.6,261.09 424.2,261.03 423.8,260.8 423.4,260.74 423,260.59 422.6,260.25 422.2,260.16 421.8,259.81 421.4,259.47 421,259.48" fill="#0b6fc2"/>
</g>
<g>
<rect x="461.6" y="251" width="83" height="65" fill="#fff" stroke="#c6c6c6" stroke-width="0.6"/>
<path d="M461.6 316v-0.9M461.6 251v0.9M470.82 316v-0.9M470.82 251v0.9M480.04 316v-0.9M480.04 251v0.9M489.27 316v-0.9M489.27 251v0.9M498.49 316v-0.9M498.49 251v0.9M507.71 316v-0.9M507.71 251v0.9M516.93 316v-0.9M516.93 251v0.9M526.16 316v-0.9M526.16 251v0.9M535.38 316v-0.9M535.38 251v0.9M544.6 316v-0.9M544.6 251v0.9M461.6 251h0.9M544.6 251h-0.9M461.6 267.25h0.9M544.6 267.25h-0.9M461.6 283.5h0.9M544.6 283.5h-0.9M461.6 299.75h0.9M544.6 299.75h-0.9M461.6 316h0.9M544.6 316h-0.9" stroke="#bdbdbd" stroke-width="0.4" fill="none"/>
<text x="460.9" y="253.35" textLength="6.84" lengthAdjust="spacingAndGlyphs" class="k e">7.8</text>
<text x="460.9" y="269.6" textLength="6.84" lengthAdjust="spacingAndGlyphs" class="k e">7.4</text>
<text x="460.9" y="285.85" textLength="2.74" lengthAdjust="spacingAndGlyphs" class="k e">7</text>
<text x="460.9" y="302.1" textLength="6.84" lengthAdjust="spacingAndGlyphs" class="k e">6.6</text>
<text x="460.9" y="317.55" textLength="6.84" lengthAdjust="spacingAndGlyphs" class="k e">6.2</text>
<text x="461.7" y="321.3" textLength="2.74" lengthAdjust="spacingAndGlyphs" class="k m">0</text>
<text x="470.92" y="321.3" textLength="2.74" lengthAdjust="spacingAndGlyphs" class="k m">1</text>
<text x="480.14" y="321.3" textLength="2.74" lengthAdjust="spacingAndGlyphs" class="k m">2</text>
<text x="489.37" y="321.3" textLength="2.74" lengthAdjust="spacingAndGlyphs" class="k m">3</text>
<text x="498.59" y="321.3" textLength="2.74" lengthAdjust="spacingAndGlyphs" class="k m">4</text>
<text x="507.81" y="321.3" textLength="2.74" lengthAdjust="spacingAndGlyphs" class="k m">5</text>
<text x="517.03" y="321.3" textLength="2.74" lengthAdjust="spacingAndGlyphs" class="k m">6</text>
<text x="526.26" y="321.3" textLength="2.74" lengthAdjust="spacingAndGlyphs" class="k m">7</text>
<text x="535.48" y="321.3" textLength="2.74" lengthAdjust="spacingAndGlyphs" class="k m">8</text>
<text x="544.7" y="321.3" textLength="2.74" lengthAdjust="spacingAndGlyphs" class="k m">9</text>
<text x="504.7" y="326.9" textLength="18.5" lengthAdjust="spacingAndGlyphs" class="t m">Time [s]</text>
<polyline points="461.6,267 472,267 473,275 473.6,283 474.4,284.6 476,286 477.6,286.4 479,289.4 480.4,287.6 481.6,290 483,287.6 484.4,285.4 485.6,288 487,286.2 488.4,285 490,287 491.2,286.2 492.4,290.6 493.6,289 495,287 496,291.6 497,286.6 498,286.2 498.8,295.4 499.6,299.4 500.6,311.6 501,289 501.6,262 502.2,258.6 503.6,260.2 505.6,261.8 509,262.6 514,263 520,263.2 528,263.4 537.6,263.4" fill="none" stroke="#0b6fc2" stroke-opacity="0.6" stroke-width="0.65" stroke-linejoin="round"/>
<polygon points="461.6,266.41 462,266.43 462.4,266.22 462.8,266.12 463.2,266.29 463.6,266.02 464,266.48 464.4,266.35 464.8,266.35 465.2,266.24 465.6,266.17 466,266.37 466.4,266.3 466.8,266.32 467.2,266.34 467.6,266.49 468,266.13 468.4,266.51 468.8,266.3 469.2,266.4 469.6,266.3 470,266.15 470.4,266.1 470.8,266.06 471.2,266.19 471.6,266.37 472,266.51 472,267.59 471.6,267.83 471.2,267.64 470.8,267.86 470.4,267.84 470,267.56 469.6,267.76 469.2,267.76 468.8,267.89 468.4,267.8 468,267.69 467.6,267.95 467.2,267.82 466.8,267.73 466.4,267.49 466,267.54 465.6,267.51 465.2,267.72 464.8,267.73 464.4,267.63 464,267.58 463.6,267.66 463.2,267.67 462.8,267.68 462.4,267.68 462,267.95 461.6,267.56" fill="#0b6fc2"/>
<polyline points="474.4,284.52 474.9,285.13 475.4,285.36 475.9,286.01 476.4,286.01 476.9,286.37 477.4,286.22 477.9,287.13 478.4,288.04 478.9,289.31 479.4,288.74 479.9,288.37 480.4,287.48 480.9,288.75 481.4,289.48 481.9,289.56 482.4,288.52 482.9,287.87 483.4,286.86 483.9,286.27 484.4,285.28 484.9,286.61 485.4,287.48 485.9,287.73 486.4,286.88 486.9,286.45 487.4,285.75 487.9,285.58 488.4,284.89 488.9,285.7 489.4,286.18 489.9,287 490.4,286.66 490.9,286.53 491.4,286.82 491.9,288.86 492.4,290.5 492.9,290.07 493.4,289.15 493.9,288.67 494.4,287.75 494.9,287.26 495.4,288.73 495.9,291.27 496.4,289.5 496.9,287.19 497.4,286.36 497.9,286.34 498,286.12" fill="none" stroke="#0b6fc2" stroke-width="0.7" stroke-linejoin="round" stroke-linecap="round" stroke-opacity="0.75"/>
<polygon points="502.2,258.16 502.6,258.63 503,259.03 503.4,259.33 503.8,259.83 504.2,260.22 504.6,260.48 505,260.81 505.4,261.24 505.8,261.23 506.2,261.42 506.6,261.37 507,261.57 507.4,261.77 507.8,261.65 508.2,262 508.6,262.08 509,262.18 509.4,262.21 509.8,262.25 510.2,262.06 510.6,262.31 511,262.24 511.4,262.37 511.8,262.35 512.2,262.45 512.6,262.4 513,262.46 513.4,262.36 513.8,262.32 514.2,262.57 514.6,262.51 515,262.48 515.4,262.38 515.8,262.66 516.2,262.5 516.6,262.59 517,262.58 517.4,262.53 517.8,262.55 518.2,262.65 518.6,262.54 519,262.62 519.4,262.73 519.8,262.76 520.2,262.77 520.6,262.6 521,262.6 521.4,262.81 521.8,262.69 522.2,262.85 522.6,262.87 523,262.7 523.4,262.74 523.8,262.79 524.2,262.8 524.6,262.8 525,262.84 525.4,262.87 525.8,262.7 526.2,262.95 526.6,262.82 527,262.94 527.4,262.9 527.8,263 528.2,262.98 528.6,262.84 529,263.01 529.4,262.9 529.8,262.84 530.2,262.86 530.6,262.99 531,262.9 531.4,262.93 531.8,262.79 532.2,262.77 532.6,262.85 533,262.79 533.4,262.9 533.8,262.74 534.2,262.81 534.6,262.76 535,262.97 535.4,262.82 535.8,262.83 536.2,262.82 536.6,262.76 537,262.95 537.4,262.99 537.6,262.86 537.6,263.91 537.4,263.87 537,263.94 536.6,263.96 536.2,264.07 535.8,263.92 535.4,263.88 535,263.85 534.6,263.93 534.2,263.8 533.8,263.83 533.4,263.92 533,263.81 532.6,263.88 532.2,263.96 531.8,263.78 531.4,263.82 531,264.03 530.6,263.78 530.2,263.86 529.8,263.81 529.4,263.82 529,264.07 528.6,263.83 528.2,263.94 527.8,263.92 527.4,263.84 527,263.79 526.6,263.84 526.2,263.75 525.8,263.82 525.4,263.99 525,263.71 524.6,263.94 524.2,263.78 523.8,263.77 523.4,263.92 523,263.72 522.6,263.84 522.2,263.65 521.8,263.69 521.4,263.83 521,263.72 520.6,263.83 520.2,263.8 519.8,263.77 519.4,263.65 519,263.62 518.6,263.78 518.2,263.65 517.8,263.55 517.4,263.64 517,263.71 516.6,263.72 516.2,263.51 515.8,263.63 515.4,263.64 515,263.57 514.6,263.56 514.2,263.48 513.8,263.47 513.4,263.54 513,263.56 512.6,263.4 512.2,263.33 511.8,263.48 511.4,263.27 511,263.18 510.6,263.22 510.2,263.3 509.8,263.05 509.4,263.2 509,263.22 508.6,263.15 508.2,262.86 507.8,262.95 507.4,262.79 507,262.73 506.6,262.45 506.2,262.4 505.8,262.51 505.4,262.08 505,261.86 504.6,261.64 504.2,261.24 503.8,260.97 503.4,260.49 503,260.16 502.6,259.72 502.2,259.04" fill="#0b6fc2"/>
</g>
<g fill="#ff2626" stroke="#ff2626" stroke-width="0.18">
<text x="522.1" y="130.6" font-size="7.3" text-anchor="middle" textLength="11.2" lengthAdjust="spacingAndGlyphs">Tool</text>
<text x="521.7" y="139.9" font-size="7.3" text-anchor="middle" textLength="26.6" lengthAdjust="spacingAndGlyphs">breakage</text>
<path d="M514.9 143.8L505 151.7" stroke-width="0.95" fill="none"/>
<path d="M503.2 153.1L507.3 152.2L505.2 149.6Z" stroke="none"/>
</g>
</svg></body></html>
